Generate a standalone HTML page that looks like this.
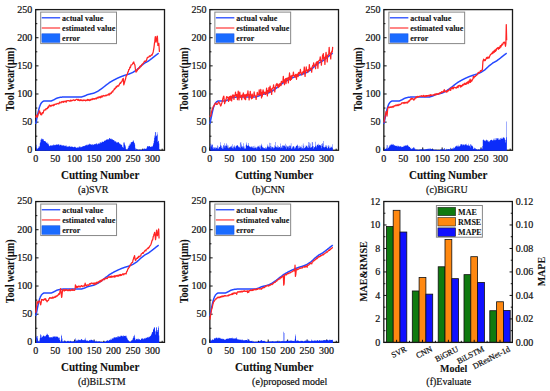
<!DOCTYPE html>
<html><head><meta charset="utf-8"><style>
html,body{margin:0;padding:0;background:#fff;}
svg{display:block;}
text{font-family:"Liberation Serif", serif;fill:#111;stroke:#111;stroke-width:0.2px;}
text[font-weight=bold]{stroke-width:0.08px;}
</style></head><body>
<svg width="550" height="391" viewBox="0 0 550 391">
<rect width="550" height="391" fill="#fff"/>
<rect x="35.7" y="9.6" width="128.8" height="140.65" fill="none" stroke="#1a1a1a" stroke-width="1.3"/>
<path d="M35.7 150.25h2.8M35.7 136.19h1.6M35.7 122.12h2.8M35.7 108.06h1.6M35.7 93.99h2.8M35.7 79.92h1.6M35.7 65.86h2.8M35.7 51.8h1.6M35.7 37.73h2.8M35.7 23.67h1.6M35.7 9.6h2.8M35.7 150.25v-2.8M45.43 150.25v-1.6M55.16 150.25v-2.8M64.88 150.25v-1.6M74.61 150.25v-2.8M84.34 150.25v-1.6M94.07 150.25v-2.8M103.8 150.25v-1.6M113.52 150.25v-2.8M123.25 150.25v-1.6M132.98 150.25v-2.8M142.71 150.25v-1.6M152.44 150.25v-2.8M162.17 150.25v-1.6" stroke="#111" stroke-width="1"/>
<path d="M36.2 150.85V144.06H35.89V144.25H36.28V144.97H36.67V147.64H37.06V149.56H37.45V148.55H37.84V148.28H38.23V148.07H38.62V146.47H39.01V147.37H39.4V146.03H39.79V143.16H40.17V142.23H40.56V139.65H40.95V139.67H41.34V138.24H41.73V138.93H42.12V139.54H42.51V138.66H42.9V139.11H43.29V139.51H43.68V140.76H44.07V140.92H44.46V141.09H44.84V141.25H45.23V141.77H45.62V141.33H46.01V142.73H46.4V142.53H46.79V142.86H47.18V142.56H47.57V144.1H47.96V144.27H48.35V143.55H48.74V145.2H49.12V146.06H49.51V146.2H49.9V145.25H50.29V145.66H50.68V145.23H51.07V145.27H51.46V145.73H51.85V145.7H52.24V145.23H52.63V145.35H53.02V144.53H53.41V144.83H53.79V145.64H54.18V144.64H54.57V145.09H54.96V145.21H55.35V145.07H55.74V144.53H56.13V144.52H56.52V144.52H56.91V144.93H57.3V144.6H57.69V144.47H58.07V144.67H58.46V144.05H58.85V144.13H59.24V145.15H59.63V145.61H60.02V145.09H60.41V144.84H60.8V144.56H61.19V145.09H61.58V145.83H61.97V145.57H62.35V145.27H62.74V145.79H63.13V144.95H63.52V145.45H63.91V146.17H64.3V145.71H64.69V145.62H65.08V145.41H65.47V145.88H65.86V146.54H66.25V145.21H66.64V146.41H67.02V146.53H67.41V146.68H67.8V146.53H68.19V146.7H68.58V146.33H68.97V146.46H69.36V146.32H69.75V145.85H70.14V147.1H70.53V146.73H70.92V146.26H71.3V146.77H71.69V146.81H72.08V146.69H72.47V146.75H72.86V147.09H73.25V147.29H73.64V147.34H74.03V147.18H74.42V146.62H74.81V146.91H75.2V146.83H75.59V147.43H75.97V147.83H76.36V147.74H76.75V147.73H77.14V147.76H77.53V146.93H77.92V147.79H78.31V147.54H78.7V146.68H79.09V146.58H79.48V146.57H79.87V147.63H80.25V146.86H80.64V146.63H81.03V147.36H81.42V146.92H81.81V146.38H82.2V146.37H82.59V146.76H82.98V146.09H83.37V146.1H83.76V146.6H84.15V146.08H84.54V145.79H84.92V145.85H85.31V145.02H85.7V145.39H86.09V145.28H86.48V144.77H86.87V144.49H87.26V145.48H87.65V144.84H88.04V144.32H88.43V144.82H88.82V145.06H89.2V143.81H89.59V143.73H89.98V143.92H90.37V144.75H90.76V143.94H91.15V144.74H91.54V144.7H91.93V144.5H92.32V144.03H92.71V145.14H93.1V144.88H93.48V144.47H93.87V144.04H94.26V144.56H94.65V144.09H95.04V144.28H95.43V143.83H95.82V144.22H96.21V143.31H96.6V143.58H96.99V144.49H97.38V144.28H97.77V143.38H98.15V144.03H98.54V143.08H98.93V143.85H99.32V143.41H99.71V142.54H100.1V142.03H100.49V143.15H100.88V141.77H101.27V142.77H101.66V142.82H102.05V142.06H102.43V141.28H102.82V142.11H103.21V142.08H103.6V141.49H103.99V141.02H104.38V140.63H104.77V140.19H105.16V140.69H105.55V140.15H105.94V139.63H106.33V139.33H106.72V139.98H107.1V139.27H107.49V139.4H107.88V138.97H108.27V139.6H108.66V139.47H109.05V138.01H109.44V138.11H109.83V139.25H110.22V139.04H110.61V138.48H111V138.39H111.38V139.15H111.77V139.48H112.16V139.71H112.55V138.94H112.94V140.06H113.33V140.12H113.72V140.18H114.11V141.28H114.5V140.55H114.89V141.63H115.28V141.06H115.66V141.55H116.05V142.65H116.44V141.64H116.83V142.45H117.22V142.22H117.61V142.61H118V141.96H118.39V141.96H118.78V142.94H119.17V143H119.56V143.97H119.95V144.33H120.33V143.68H120.72V144.75H121.11V144.55H121.5V144.93H121.89V145.41H122.28V146.99H122.67V147.3H123.06V147.78H123.45V142.8H123.84V141.99H124.23V142.77H124.61V144.43H125V145.29H125.39V146.48H125.78V148.76H126.17V148.94H126.56V149.95H126.95V149.95H127.34V149.02H127.73V147.79H128.12V147.8H128.51V145.67H128.9V145.92H129.28V145.36H129.67V143.7H130.06V144.4H130.45V143.57H130.84V141.94H131.23V142.24H131.62V142.15H132.01V141.91H132.4V141.65H132.79V140.76H133.18V141.62H133.56V140.37H133.95V142.5H134.34V143H134.73V144.45H135.12V147.87H135.51V149.95H135.9V148.44H136.29V149.58H136.68V149.01H137.07V149.03H137.46V149.95H137.85V149.56H138.23V149.95H138.62V149.9H139.01V149.75H139.4V149.44H139.79V149.68H140.18V149.65H140.57V149.64H140.96V149.88H141.35V149.94H141.74V149.31H142.13V149.86H142.51V149.55H142.9V149.24H143.29V149.49H143.68V148.73H144.07V148.72H144.46V148.46H144.85V148.26H145.24V149.02H145.63V149.04H146.02V149.08H146.41V148.03H146.79V147.29H147.18V146.11H147.57V146.17H147.96V146.36H148.35V146.41H148.74V146.59H149.13V145.97H149.52V146.07H149.91V146.93H150.3V146.89H150.69V146.58H151.08V146.53H151.46V146.51H151.85V147.07H152.24V146.17H152.63V145.86H153.02V144.61H153.41V143.07H153.8V140.82H154.19V137.76H154.58V135.56H154.97V132.12H155.36V132.22H155.74V136.38H156.13V136.11H156.52V135.33H156.91V132.23H157.3V134.5H157.69V141.95H158.08V141.06H158.47V140.67H158.86V143.51H159.25V149.07H159.64V150.85Z" fill="#0c2cfa" stroke="none"/>
<path d="M35.7 123.81L35.89 122.96L36.09 122.12L36.28 121.28L36.48 120.43L36.67 119.45L36.87 118.46L37.06 117.48L37.26 116.49L37.45 115.58L37.65 114.67L37.84 113.75L38.03 112.84L38.23 111.99L38.42 111.15L38.62 110.31L38.81 109.46L39.01 108.76L39.2 108.06L39.4 107.35L39.59 106.65L39.79 106.16L39.98 105.66L40.17 105.17L40.37 104.68L40.56 104.33L40.76 103.98L40.95 103.62L41.15 103.27L41.34 103.04L41.54 102.8L41.73 102.57L41.93 102.34L42.12 102.1L42.32 101.87L42.51 101.75L42.7 101.64L42.9 101.53L43.09 101.42L43.29 101.3L43.48 101.19L43.68 101.08L43.87 100.97L44.07 100.97L44.26 100.97L44.46 100.97L44.65 100.97L44.84 100.97L45.04 100.97L45.23 100.97L45.43 100.97L45.62 100.97L45.82 100.97L46.01 100.97L46.21 100.97L46.4 100.97L46.6 100.97L46.79 100.97L46.98 100.97L47.18 100.97L47.37 100.97L47.57 100.97L47.76 100.97L47.96 100.97L48.15 100.97L48.35 100.97L48.54 100.97L48.74 100.97L48.93 100.97L49.12 100.97L49.32 100.97L49.51 100.97L49.71 100.97L49.9 100.97L50.1 100.97L50.29 100.97L50.49 100.97L50.68 100.97L50.88 100.97L51.07 100.97L51.26 100.97L51.46 100.88L51.65 100.79L51.85 100.7L52.04 100.61L52.24 100.52L52.43 100.44L52.63 100.35L52.82 100.26L53.02 100.17L53.21 100.08L53.41 99.99L53.6 99.91L53.79 99.82L53.99 99.73L54.18 99.62L54.38 99.51L54.57 99.4L54.77 99.29L54.96 99.19L55.16 99.08L55.35 98.97L55.55 98.86L55.74 98.75L55.93 98.64L56.13 98.54L56.32 98.43L56.52 98.32L56.71 98.21L56.91 98.16L57.1 98.1L57.3 98.05L57.49 98L57.69 97.95L57.88 97.89L58.07 97.84L58.27 97.79L58.46 97.73L58.66 97.68L58.85 97.63L59.05 97.58L59.24 97.52L59.44 97.47L59.63 97.42L59.83 97.37L60.02 97.34L60.21 97.32L60.41 97.3L60.6 97.28L60.8 97.26L60.99 97.24L61.19 97.22L61.38 97.2L61.58 97.18L61.77 97.15L61.97 97.13L62.16 97.11L62.35 97.09L62.55 97.07L62.74 97.05L62.94 97.03L63.13 97.03L63.33 97.03L63.52 97.02L63.72 97.02L63.91 97.02L64.11 97.02L64.3 97.02L64.5 97.02L64.69 97.02L64.88 97.02L65.08 97.02L65.27 97.01L65.47 97.01L65.66 97.01L65.86 97.01L66.05 97.01L66.25 97.01L66.44 97.01L66.64 97.01L66.83 97L67.02 97L67.22 97L67.41 97L67.61 97L67.8 97L68 97L68.19 97L68.39 97L68.58 96.99L68.78 96.99L68.97 96.99L69.16 96.99L69.36 96.99L69.55 96.99L69.75 96.99L69.94 96.99L70.14 96.98L70.33 96.98L70.53 96.98L70.72 96.98L70.92 96.98L71.11 96.98L71.3 96.98L71.5 96.98L71.69 96.98L71.89 96.97L72.08 96.97L72.28 96.97L72.47 96.97L72.67 96.97L72.86 96.97L73.06 96.97L73.25 96.97L73.45 96.96L73.64 96.96L73.83 96.96L74.03 96.96L74.22 96.96L74.42 96.96L74.61 96.96L74.81 96.96L75 96.96L75.2 96.95L75.39 96.95L75.59 96.95L75.78 96.95L75.97 96.95L76.17 96.95L76.36 96.95L76.56 96.95L76.75 96.94L76.95 96.94L77.14 96.94L77.34 96.94L77.53 96.94L77.73 96.94L77.92 96.94L78.11 96.94L78.31 96.94L78.5 96.93L78.7 96.93L78.89 96.93L79.09 96.93L79.28 96.93L79.48 96.93L79.67 96.93L79.87 96.93L80.06 96.92L80.25 96.92L80.45 96.92L80.64 96.92L80.84 96.92L81.03 96.92L81.23 96.92L81.42 96.92L81.62 96.92L81.81 96.86L82.01 96.8L82.2 96.74L82.39 96.68L82.59 96.62L82.78 96.56L82.98 96.5L83.17 96.44L83.37 96.38L83.56 96.32L83.76 96.26L83.95 96.2L84.15 96.14L84.34 96.08L84.54 96.02L84.73 95.96L84.92 95.87L85.12 95.77L85.31 95.68L85.51 95.59L85.7 95.5L85.9 95.4L86.09 95.31L86.29 95.22L86.48 95.13L86.68 95.03L86.87 94.94L87.06 94.85L87.26 94.76L87.45 94.67L87.65 94.62L87.84 94.57L88.04 94.52L88.23 94.47L88.43 94.42L88.62 94.38L88.82 94.33L89.01 94.28L89.2 94.23L89.4 94.18L89.59 94.13L89.79 94.09L89.98 94.04L90.18 93.99L90.37 93.94L90.57 93.9L90.76 93.85L90.96 93.81L91.15 93.76L91.34 93.72L91.54 93.67L91.73 93.63L91.93 93.58L92.12 93.54L92.32 93.49L92.51 93.45L92.71 93.4L92.9 93.36L93.1 93.31L93.29 93.27L93.48 93.22L93.68 93.18L93.87 93.13L94.07 93.09L94.26 92.99L94.46 92.9L94.65 92.8L94.85 92.71L95.04 92.61L95.24 92.52L95.43 92.42L95.63 92.32L95.82 92.23L96.01 92.13L96.21 92.04L96.4 91.94L96.6 91.85L96.79 91.75L96.99 91.66L97.18 91.56L97.38 91.46L97.57 91.37L97.77 91.27L97.96 91.18L98.15 91.04L98.35 90.91L98.54 90.77L98.74 90.64L98.93 90.5L99.13 90.37L99.32 90.23L99.52 90.1L99.71 89.96L99.91 89.83L100.1 89.69L100.29 89.56L100.49 89.42L100.68 89.29L100.88 89.15L101.07 89.02L101.27 88.88L101.46 88.75L101.66 88.61L101.85 88.48L102.05 88.32L102.24 88.17L102.43 88.01L102.63 87.86L102.82 87.7L103.02 87.55L103.21 87.39L103.41 87.24L103.6 87.08L103.8 86.93L103.99 86.77L104.19 86.62L104.38 86.47L104.57 86.31L104.77 86.16L104.96 86L105.16 85.85L105.35 85.69L105.55 85.54L105.74 85.38L105.94 85.24L106.13 85.09L106.33 84.94L106.52 84.8L106.72 84.65L106.91 84.5L107.1 84.36L107.3 84.21L107.49 84.07L107.69 83.92L107.88 83.77L108.08 83.63L108.27 83.48L108.47 83.33L108.66 83.19L108.86 83.04L109.05 82.9L109.24 82.75L109.44 82.6L109.63 82.46L109.83 82.34L110.02 82.23L110.22 82.12L110.41 82.01L110.61 81.89L110.8 81.78L111 81.67L111.19 81.56L111.38 81.44L111.58 81.33L111.77 81.22L111.97 81.11L112.16 80.99L112.36 80.88L112.55 80.77L112.75 80.66L112.94 80.54L113.14 80.43L113.33 80.32L113.52 80.21L113.72 80.11L113.91 80.01L114.11 79.91L114.3 79.81L114.5 79.71L114.69 79.62L114.89 79.52L115.08 79.42L115.28 79.32L115.47 79.22L115.66 79.12L115.86 79.02L116.05 78.93L116.25 78.83L116.44 78.73L116.64 78.63L116.83 78.53L117.03 78.43L117.22 78.34L117.42 78.24L117.61 78.15L117.81 78.07L118 77.98L118.19 77.9L118.39 77.82L118.58 77.73L118.78 77.65L118.97 77.56L119.17 77.48L119.36 77.39L119.56 77.31L119.75 77.22L119.95 77.14L120.14 77.06L120.33 76.97L120.53 76.89L120.72 76.8L120.92 76.72L121.11 76.63L121.31 76.55L121.5 76.48L121.7 76.41L121.89 76.34L122.09 76.27L122.28 76.2L122.47 76.13L122.67 76.06L122.86 75.99L123.06 75.92L123.25 75.85L123.45 75.78L123.64 75.71L123.84 75.64L124.03 75.56L124.23 75.49L124.42 75.42L124.61 75.35L124.81 75.28L125 75.21L125.2 75.14L125.39 75.09L125.59 75.03L125.78 74.97L125.98 74.92L126.17 74.86L126.37 74.81L126.56 74.75L126.75 74.69L126.95 74.64L127.14 74.58L127.34 74.52L127.53 74.47L127.73 74.41L127.92 74.36L128.12 74.3L128.31 74.24L128.51 74.19L128.7 74.13L128.9 74.07L129.09 74.02L129.28 73.93L129.48 73.85L129.67 73.76L129.87 73.68L130.06 73.6L130.26 73.51L130.45 73.43L130.65 73.34L130.84 73.26L131.04 73.17L131.23 73.09L131.42 73.01L131.62 72.92L131.81 72.84L132.01 72.75L132.2 72.67L132.4 72.58L132.59 72.5L132.79 72.41L132.98 72.33L133.18 72.2L133.37 72.08L133.56 71.95L133.76 71.82L133.95 71.7L134.15 71.57L134.34 71.44L134.54 71.32L134.73 71.19L134.93 71.06L135.12 70.94L135.32 70.81L135.51 70.68L135.7 70.56L135.9 70.43L136.09 70.3L136.29 70.18L136.48 70.05L136.68 69.92L136.87 69.8L137.07 69.62L137.26 69.43L137.46 69.25L137.65 69.07L137.85 68.88L138.04 68.7L138.23 68.52L138.43 68.34L138.62 68.15L138.82 67.97L139.01 67.79L139.21 67.6L139.4 67.42L139.6 67.24L139.79 67.06L139.99 66.87L140.18 66.69L140.37 66.51L140.57 66.32L140.76 66.14L140.96 65.99L141.15 65.83L141.35 65.68L141.54 65.52L141.74 65.37L141.93 65.21L142.13 65.06L142.32 64.9L142.51 64.75L142.71 64.59L142.9 64.44L143.1 64.28L143.29 64.13L143.49 63.98L143.68 63.82L143.88 63.67L144.07 63.51L144.27 63.36L144.46 63.2L144.65 63.05L144.85 62.94L145.04 62.84L145.24 62.73L145.43 62.63L145.63 62.53L145.82 62.42L146.02 62.32L146.21 62.21L146.41 62.11L146.6 62.01L146.79 61.9L146.99 61.8L147.18 61.69L147.38 61.59L147.57 61.49L147.77 61.38L147.96 61.28L148.16 61.17L148.35 61.07L148.55 60.97L148.74 60.82L148.94 60.67L149.13 60.52L149.32 60.37L149.52 60.22L149.71 60.07L149.91 59.92L150.1 59.77L150.3 59.62L150.49 59.47L150.69 59.33L150.88 59.18L151.08 59.03L151.27 58.88L151.46 58.73L151.66 58.58L151.85 58.43L152.05 58.28L152.24 58.13L152.44 57.98L152.63 57.83L152.83 57.67L153.02 57.52L153.22 57.36L153.41 57.21L153.6 57.06L153.8 56.9L153.99 56.75L154.19 56.59L154.38 56.44L154.58 56.28L154.77 56.13L154.97 55.97L155.16 55.82L155.36 55.66L155.55 55.51L155.74 55.35L155.94 55.2L156.13 55.04L156.33 54.89L156.52 54.75L156.72 54.61L156.91 54.47L157.11 54.33L157.3 54.19L157.5 54.05L157.69 53.9L157.88 53.76L158.08 53.62L158.27 53.48L158.47 53.34L158.66 53.2" fill="none" stroke="#2448ff" stroke-width="1.5" stroke-linejoin="round"/>
<path d="M35.7 117.62L36.09 116.12L36.28 115.9L36.48 115.15L36.87 115.86L37.26 117.18L37.41 117.06L37.65 116.37L38.03 114.8L38.42 113.33L38.62 113.71L38.81 113.25L39.2 110.94L39.4 110.97L39.59 110.87L39.98 112.75L40.14 112.41L40.37 112.7L40.76 114.57L40.91 113.99L41.15 113.86L41.54 114.81L41.73 114.66L41.93 113.65L42.32 112.58L42.39 113.29L42.7 113.23L43.09 112.56L43.21 113.02L43.48 111.93L43.87 110.46L43.99 110.03L44.26 110.29L44.65 110.12L45.04 109.97L45.43 109.44L45.51 109.66L45.82 109.88L46.21 108.48L46.6 108.69L46.98 108.35L47.37 108.66L47.76 107.12L48.15 106.95L48.54 107.67L48.62 107.29L48.93 106.02L49.32 105.16L49.71 105.02L50.1 105.97L50.49 105.56L50.88 105.99L50.91 106.54L51.26 105.94L51.65 105.31L52.04 105.16L52.43 105.46L52.82 105.16L53.21 105.8L53.6 105.32L53.99 104.34L54.07 104.86L54.38 105.12L54.77 104.46L55.16 104.12L55.55 104.04L55.93 104.36L56.32 104.16L56.71 103.94L57.1 103.43L57.49 103.64L57.88 103.67L58.27 103.37L58.66 103.88L59.05 103.7L59.44 102.57L59.83 102L60.21 102.49L60.6 102.69L60.99 102.93L61.38 102.36L61.77 101.57L62.16 101.8L62.55 102.05L62.94 101.49L63.33 102.32L63.72 101.82L64.11 101.1L64.5 101.56L64.88 101.64L65.27 101.86L65.66 101.39L66.05 100.72L66.44 102.05L66.83 100.85L67.22 100.73L67.61 100.57L68 100.71L68.39 100.55L68.78 100.91L69.16 100.78L69.55 100.91L69.94 101.39L70.33 100.13L70.72 100.5L71.11 100.97L71.5 100.45L71.89 100.41L72.28 100.53L72.67 100.47L73.06 100.12L73.45 99.93L73.83 99.87L74.22 100.03L74.61 100.59L75 100.29L75.39 100.37L75.78 99.77L76.17 99.37L76.56 99.46L76.95 99.46L77.34 99.43L77.73 100.26L78.11 99.4L78.5 99.64L78.89 100.51L79.28 100.6L79.67 100.61L80.06 99.55L80.45 100.31L80.84 100.54L81.23 99.81L81.62 100.24L82.01 100.67L82.39 100.56L82.78 100.04L83.17 100.59L83.56 100.46L83.95 99.85L84.34 100.24L84.73 100.42L85.12 100.18L85.51 100.82L85.9 100.26L86.29 100.19L86.68 100.51L87.06 100.61L87.45 99.43L87.84 99.98L88.23 100.4L88.62 99.8L89.01 99.47L89.4 100.62L89.79 100.6L90.18 100.32L90.57 99.4L90.96 100.12L91.34 99.23L91.73 99.18L92.12 99.29L92.51 99.67L92.9 98.47L93.29 98.64L93.68 98.96L94.07 99.3L94.46 98.59L94.85 98.87L95.24 98.49L95.63 98.74L96.01 98.17L96.4 98.89L96.79 98.42L97.18 97.32L97.57 97.34L97.96 98.05L98.35 97.12L98.74 97.81L99.13 96.77L99.52 96.94L99.83 97.32L99.91 97.54L100.29 97.77L100.68 96.38L101.07 97.49L101.46 96.23L101.85 95.9L102.24 96.36L102.63 96.82L103.02 95.69L103.41 95.41L103.8 95.69L104.19 95.85L104.57 95.93L104.81 95.9L104.96 96.06L105.35 95.25L105.74 95.48L106.13 95.71L106.52 95.72L106.91 94.78L107.3 95.19L107.69 94.77L108.08 94.91L108.47 93.99L108.86 93.82L109.24 94.99L109.63 94.6L109.83 94.35L110.02 93.23L110.41 93.22L110.8 93.55L111.19 93.42L111.58 92.43L111.97 91.88L112.36 91.42L112.75 91.97L113.14 90.62L113.52 90.34L113.91 90.07L114.3 88.78L114.69 89.31L115.08 88.03L115.47 88.41L115.86 87.72L116.25 86.43L116.64 87.24L117.03 86.24L117.42 86.26L117.81 85.7L118.19 86.19L118.58 86.02L118.82 85.97L118.97 84.88L119.36 84.64L119.75 83.5L120.14 82.98L120.53 83.45L120.92 82.22L121.31 82.25L121.7 81.72L122.09 81.11L122.47 79.39L122.86 78.94L123.25 78.32L123.64 83.16L123.84 84.82L124.03 83.82L124.42 82.9L124.81 81.11L125.2 80.1L125.59 78.8L125.82 77.62L125.98 76.4L126.37 76.12L126.75 74.82L127.14 74.74L127.34 74.62L127.53 73.24L127.92 71.89L128.31 71.8L128.7 69.55L129.09 69.69L129.48 68.95L129.87 67.13L130.26 67.66L130.65 66.66L131.04 64.86L131.42 64.99L131.81 64.73L132.2 64.33L132.59 63.9L132.98 62.84L133.37 63.45L133.76 61.94L134.15 63.83L134.54 64.07L134.93 65.26L135.32 68.43L135.7 70.76L135.94 71.8L136.09 72.12L136.48 70.72L136.87 71.03L137.26 70.65L137.65 68.81L138.04 69.39L138.43 68.53L138.82 68.32L139.21 68.1L139.6 68.05L139.83 66.55L139.99 66.31L140.37 65.9L140.76 66.76L141.15 66.2L141.54 65.21L141.93 64.28L142.32 64.51L142.71 63.9L143.1 63.28L143.49 63.21L143.88 62.14L144.27 61.83L144.65 61.26L145.04 60.85L145.43 61.4L145.82 61.21L146.21 61.04L146.6 59.79L146.99 58.84L147.38 57.45L147.77 57.3L148.16 57.29L148.55 57.12L148.94 57L149.32 56.09L149.71 55.89L150.1 56.46L150.49 56.11L150.88 55.51L151.27 55.16L151.66 54.84L151.85 55.21L152.05 55.1L152.44 53.91L152.83 53.29L153.22 51.72L153.6 49.87L153.99 47.32L154.38 43.95L154.77 41.43L155.16 37.69L155.36 36.61L155.55 37.48L155.94 41.33L156.13 42.23L156.33 40.75L156.72 39.69L157.11 36.31L157.34 36.18L157.5 38.29L157.88 45.46L158.27 44.29L158.66 43.62L158.82 43.37L159.05 46.46L159.44 52.03" fill="none" stroke="#ff2424" stroke-width="1.25" stroke-linejoin="round"/>
<text x="32.3" y="153.15" font-size="10" text-anchor="end" >0</text>
<text x="32.3" y="125.02" font-size="10" text-anchor="end" >50</text>
<text x="32.3" y="96.89" font-size="10" text-anchor="end" >100</text>
<text x="32.3" y="68.76" font-size="10" text-anchor="end" >150</text>
<text x="32.3" y="40.63" font-size="10" text-anchor="end" >200</text>
<text x="32.3" y="12.5" font-size="10" text-anchor="end" >250</text>
<text x="35.7" y="161.55" font-size="10" text-anchor="middle" >0</text>
<text x="55.16" y="161.55" font-size="10" text-anchor="middle" >50</text>
<text x="74.61" y="161.55" font-size="10" text-anchor="middle" >100</text>
<text x="94.07" y="161.55" font-size="10" text-anchor="middle" >150</text>
<text x="113.52" y="161.55" font-size="10" text-anchor="middle" >200</text>
<text x="132.98" y="161.55" font-size="10" text-anchor="middle" >250</text>
<text x="152.44" y="161.55" font-size="10" text-anchor="middle" >300</text>
<text x="100.1" y="178.85" font-size="11.6" text-anchor="middle" font-weight="bold" textLength="78.4" lengthAdjust="spacingAndGlyphs">Cutting Number</text>
<text transform="translate(14.1 79.33) rotate(-90)" font-size="11.5" font-weight="bold" text-anchor="middle" textLength="64" lengthAdjust="spacingAndGlyphs">Tool wear(&#956;m)</text>
<text x="77.9" y="192.85" font-size="10" text-anchor="start" >(a)SVR</text>
<rect x="40.7" y="12.1" width="75.8" height="31.5" fill="#fff" stroke="#888" stroke-width="1"/>
<path d="M41.7 17.8h18.5" stroke="#2046ff" stroke-width="1.3"/>
<path d="M41.7 28h18.5" stroke="#ff2424" stroke-width="1.1"/>
<rect x="41.9" y="33.8" width="18" height="8.6" fill="#1a6bff" stroke="#1450e0" stroke-width="0.5"/>
<text x="62.1" y="20.7" font-size="8" text-anchor="start" font-weight="bold" >actual value</text>
<text x="62.1" y="30.9" font-size="8" text-anchor="start" font-weight="bold" >estimated value</text>
<text x="62.1" y="41.1" font-size="8" text-anchor="start" font-weight="bold" >error</text>
<rect x="209.85" y="9.6" width="128.65" height="140.65" fill="none" stroke="#1a1a1a" stroke-width="1.3"/>
<path d="M209.85 150.25h2.8M209.85 136.19h1.6M209.85 122.12h2.8M209.85 108.06h1.6M209.85 93.99h2.8M209.85 79.92h1.6M209.85 65.86h2.8M209.85 51.8h1.6M209.85 37.73h2.8M209.85 23.67h1.6M209.85 9.6h2.8M209.85 150.25v-2.8M219.57 150.25v-1.6M229.28 150.25v-2.8M239 150.25v-1.6M248.72 150.25v-2.8M258.43 150.25v-1.6M268.15 150.25v-2.8M277.87 150.25v-1.6M287.58 150.25v-2.8M297.3 150.25v-1.6M307.02 150.25v-2.8M316.73 150.25v-1.6M326.45 150.25v-2.8M336.17 150.25v-1.6" stroke="#111" stroke-width="1"/>
<path d="M210.35 150.85V143.73H210.04V145.59H210.43V145.93H210.82V143.64H211.21V146.42H211.6V145H211.99V144.68H212.38V144.47H212.77V148.31H213.15V147.01H213.54V148.74H213.93V148.21H214.32V146.99H214.71V148.17H215.1V148.52H215.49V146.89H215.87V148.14H216.26V148.11H216.65V147.24H217.04V148.56H217.43V145.25H217.82V146.13H218.21V148.5H218.6V148.55H218.98V146.88H219.37V147.22H219.76V146.82H220.15V142.25H220.54V145.28H220.93V145.38H221.32V148.04H221.7V146.14H222.09V147.44H222.48V148.72H222.87V148.7H223.26V145.23H223.65V145.24H224.04V143.3H224.43V146.31H224.81V147.75H225.2V145.76H225.59V145.47H225.98V143.27H226.37V146.06H226.76V144.38H227.15V145.46H227.53V147.42H227.92V145.61H228.31V147.89H228.7V148.53H229.09V148.75H229.48V147.99H229.87V147.46H230.26V146.24H230.64V147.05H231.03V145.77H231.42V146.57H231.81V147.83H232.2V148.15H232.59V144.23H232.98V148.51H233.36V146.98H233.75V145.99H234.14V145.36H234.53V147.16H234.92V146.3H235.31V148.13H235.7V147.28H236.09V145.68H236.47V145.71H236.86V145.5H237.25V145.3H237.64V145.19H238.03V146.1H238.42V146.93H238.81V147.38H239.19V147.46H239.58V146.79H239.97V142.72H240.36V148.31H240.75V142.06H241.14V146.69H241.53V144.56H241.92V146.21H242.3V146.51H242.69V147.85H243.08V143.17H243.47V146.56H243.86V148.53H244.25V148.56H244.64V146.58H245.02V148.67H245.41V148.3H245.8V145.26H246.19V144.54H246.58V142.42H246.97V145.89H247.36V145.42H247.75V145.83H248.13V143.08H248.52V145.22H248.91V146.23H249.3V147.08H249.69V146.03H250.08V147.13H250.47V146.73H250.85V147.43H251.24V146.81H251.63V146.3H252.02V146.6H252.41V147.72H252.8V147.6H253.19V148.14H253.58V145.97H253.96V147.55H254.35V148.27H254.74V145.8H255.13V147.21H255.52V147.97H255.91V147.09H256.3V147.82H256.68V148.81H257.07V147.31H257.46V146.59H257.85V145.64H258.24V146.33H258.63V146.86H259.02V145.5H259.41V147.43H259.79V147.27H260.18V148.76H260.57V145.38H260.96V145.66H261.35V143.69H261.74V145.29H262.13V146.66H262.51V147.56H262.9V147.21H263.29V148.24H263.68V147.77H264.07V148.51H264.46V147.91H264.85V148.21H265.24V148.75H265.62V146.98H266.01V148.11H266.4V148.71H266.79V147.08H267.18V144.54H267.57V146.19H267.96V147.83H268.34V145.66H268.73V146.95H269.12V142.76H269.51V146.74H269.9V148.24H270.29V145.94H270.68V143.09H271.07V148.53H271.45V146.51H271.84V147.09H272.23V146.85H272.62V147.44H273.01V147.15H273.4V148.4H273.79V147.81H274.18V145.35H274.56V147.64H274.95V146.14H275.34V141.9H275.73V146.81H276.12V146.65H276.51V147.3H276.9V148.09H277.28V145.25H277.67V147.06H278.06V147.73H278.45V146.05H278.84V147.62H279.23V147.03H279.62V147.07H280.01V148.16H280.39V143.6H280.78V145.9H281.17V147.13H281.56V147.82H281.95V145.7H282.34V145.35H282.73V148.35H283.11V145.33H283.5V146.06H283.89V145.5H284.28V145.47H284.67V146.3H285.06V143.81H285.45V147.23H285.84V146.2H286.22V148.82H286.61V145.23H287V146.35H287.39V146.39H287.78V148.73H288.17V147.25H288.56V145.91H288.94V145.48H289.33V145.79H289.72V148.05H290.11V145.54H290.5V146.35H290.89V143.18H291.28V148.74H291.67V148.44H292.05V148.37H292.44V146.92H292.83V145.88H293.22V146.64H293.61V146.03H294V147.45H294.39V148.75H294.77V146.57H295.16V147.28H295.55V148.28H295.94V145.92H296.33V145.5H296.72V146.11H297.11V145.34H297.5V144.45H297.88V148.84H298.27V145.94H298.66V147.76H299.05V147.99H299.44V145.83H299.83V147.17H300.22V147.53H300.6V146.36H300.99V148.4H301.38V146.91H301.77V145.21H302.16V148.5H302.55V148.05H302.94V143.42H303.33V145.63H303.71V148.74H304.1V147.82H304.49V148.1H304.88V145.55H305.27V147.1H305.66V147.59H306.05V145.99H306.43V145.6H306.82V145.82H307.21V147.98H307.6V146.81H307.99V148.04H308.38V141.91H308.77V145.37H309.16V146.56H309.54V142.57H309.93V148.01H310.32V143.52H310.71V147.16H311.1V146.96H311.49V147.38H311.88V142.04H312.26V146.33H312.65V142.17H313.04V148.64H313.43V146.01H313.82V147.61H314.21V147.14H314.6V146.88H314.99V145.77H315.37V141.85H315.76V146.42H316.15V147.61H316.54V145.77H316.93V144.48H317.32V144.91H317.71V144.74H318.09V145.73H318.48V143.76H318.87V145.24H319.26V145.07H319.65V144.65H320.04V145.31H320.43V145.23H320.82V146.08H321.2V143.94H321.59V148.37H321.98V143.11H322.37V145.68H322.76V143.79H323.15V147.01H323.54V141.09H323.92V147.86H324.31V146.78H324.7V147.29H325.09V146.95H325.48V145.24H325.87V146.26H326.26V145.27H326.65V148.33H327.03V148.43H327.42V148.1H327.81V145.67H328.2V145.14H328.59V146.96H328.98V148.39H329.37V147.69H329.75V145.76H330.14V147.47H330.53V147.76H330.92V147.68H331.31V147.05H331.7V146.62H332.09V147.66H332.48V144.34H332.86V150.85Z" fill="#0c2cfa" stroke="none"/>
<path d="M209.85 123.81L210.04 122.96L210.24 122.12L210.43 121.28L210.63 120.43L210.82 119.45L211.02 118.46L211.21 117.48L211.4 116.49L211.6 115.58L211.79 114.67L211.99 113.75L212.18 112.84L212.38 111.99L212.57 111.15L212.77 110.31L212.96 109.46L213.15 108.76L213.35 108.06L213.54 107.35L213.74 106.65L213.93 106.16L214.13 105.66L214.32 105.17L214.51 104.68L214.71 104.33L214.9 103.98L215.1 103.62L215.29 103.27L215.49 103.04L215.68 102.8L215.87 102.57L216.07 102.34L216.26 102.1L216.46 101.87L216.65 101.75L216.85 101.64L217.04 101.53L217.23 101.42L217.43 101.3L217.62 101.19L217.82 101.08L218.01 100.97L218.21 100.97L218.4 100.97L218.6 100.97L218.79 100.97L218.98 100.97L219.18 100.97L219.37 100.97L219.57 100.97L219.76 100.97L219.96 100.97L220.15 100.97L220.34 100.97L220.54 100.97L220.73 100.97L220.93 100.97L221.12 100.97L221.32 100.97L221.51 100.97L221.7 100.97L221.9 100.97L222.09 100.97L222.29 100.97L222.48 100.97L222.68 100.97L222.87 100.97L223.06 100.97L223.26 100.97L223.45 100.97L223.65 100.97L223.84 100.97L224.04 100.97L224.23 100.97L224.43 100.97L224.62 100.97L224.81 100.97L225.01 100.97L225.2 100.97L225.4 100.97L225.59 100.88L225.79 100.79L225.98 100.7L226.17 100.61L226.37 100.52L226.56 100.44L226.76 100.35L226.95 100.26L227.15 100.17L227.34 100.08L227.53 99.99L227.73 99.91L227.92 99.82L228.12 99.73L228.31 99.62L228.51 99.51L228.7 99.4L228.89 99.29L229.09 99.19L229.28 99.08L229.48 98.97L229.67 98.86L229.87 98.75L230.06 98.64L230.26 98.54L230.45 98.43L230.64 98.32L230.84 98.21L231.03 98.16L231.23 98.1L231.42 98.05L231.62 98L231.81 97.95L232 97.89L232.2 97.84L232.39 97.79L232.59 97.73L232.78 97.68L232.98 97.63L233.17 97.58L233.36 97.52L233.56 97.47L233.75 97.42L233.95 97.37L234.14 97.34L234.34 97.32L234.53 97.3L234.72 97.28L234.92 97.26L235.11 97.24L235.31 97.22L235.5 97.2L235.7 97.18L235.89 97.15L236.09 97.13L236.28 97.11L236.47 97.09L236.67 97.07L236.86 97.05L237.06 97.03L237.25 97.03L237.45 97.03L237.64 97.02L237.83 97.02L238.03 97.02L238.22 97.02L238.42 97.02L238.61 97.02L238.81 97.02L239 97.02L239.19 97.02L239.39 97.01L239.58 97.01L239.78 97.01L239.97 97.01L240.17 97.01L240.36 97.01L240.55 97.01L240.75 97.01L240.94 97L241.14 97L241.33 97L241.53 97L241.72 97L241.92 97L242.11 97L242.3 97L242.5 97L242.69 96.99L242.89 96.99L243.08 96.99L243.28 96.99L243.47 96.99L243.66 96.99L243.86 96.99L244.05 96.99L244.25 96.98L244.44 96.98L244.64 96.98L244.83 96.98L245.02 96.98L245.22 96.98L245.41 96.98L245.61 96.98L245.8 96.98L246 96.97L246.19 96.97L246.39 96.97L246.58 96.97L246.77 96.97L246.97 96.97L247.16 96.97L247.36 96.97L247.55 96.96L247.75 96.96L247.94 96.96L248.13 96.96L248.33 96.96L248.52 96.96L248.72 96.96L248.91 96.96L249.11 96.96L249.3 96.95L249.49 96.95L249.69 96.95L249.88 96.95L250.08 96.95L250.27 96.95L250.47 96.95L250.66 96.95L250.85 96.94L251.05 96.94L251.24 96.94L251.44 96.94L251.63 96.94L251.83 96.94L252.02 96.94L252.22 96.94L252.41 96.94L252.6 96.93L252.8 96.93L252.99 96.93L253.19 96.93L253.38 96.93L253.58 96.93L253.77 96.93L253.96 96.93L254.16 96.92L254.35 96.92L254.55 96.92L254.74 96.92L254.94 96.92L255.13 96.92L255.32 96.92L255.52 96.92L255.71 96.92L255.91 96.86L256.1 96.8L256.3 96.74L256.49 96.68L256.68 96.62L256.88 96.56L257.07 96.5L257.27 96.44L257.46 96.38L257.66 96.32L257.85 96.26L258.05 96.2L258.24 96.14L258.43 96.08L258.63 96.02L258.82 95.96L259.02 95.87L259.21 95.77L259.41 95.68L259.6 95.59L259.79 95.5L259.99 95.4L260.18 95.31L260.38 95.22L260.57 95.13L260.77 95.03L260.96 94.94L261.15 94.85L261.35 94.76L261.54 94.67L261.74 94.62L261.93 94.57L262.13 94.52L262.32 94.47L262.51 94.42L262.71 94.38L262.9 94.33L263.1 94.28L263.29 94.23L263.49 94.18L263.68 94.13L263.88 94.09L264.07 94.04L264.26 93.99L264.46 93.94L264.65 93.9L264.85 93.85L265.04 93.81L265.24 93.76L265.43 93.72L265.62 93.67L265.82 93.63L266.01 93.58L266.21 93.54L266.4 93.49L266.6 93.45L266.79 93.4L266.98 93.36L267.18 93.31L267.37 93.27L267.57 93.22L267.76 93.18L267.96 93.13L268.15 93.09L268.34 92.99L268.54 92.9L268.73 92.8L268.93 92.71L269.12 92.61L269.32 92.52L269.51 92.42L269.71 92.32L269.9 92.23L270.09 92.13L270.29 92.04L270.48 91.94L270.68 91.85L270.87 91.75L271.07 91.66L271.26 91.56L271.45 91.46L271.65 91.37L271.84 91.27L272.04 91.18L272.23 91.04L272.43 90.91L272.62 90.77L272.81 90.64L273.01 90.5L273.2 90.37L273.4 90.23L273.59 90.1L273.79 89.96L273.98 89.83L274.18 89.69L274.37 89.56L274.56 89.42L274.76 89.29L274.95 89.15L275.15 89.02L275.34 88.88L275.54 88.75L275.73 88.61L275.92 88.48L276.12 88.32L276.31 88.17L276.51 88.01L276.7 87.86L276.9 87.7L277.09 87.55L277.28 87.39L277.48 87.24L277.67 87.08L277.87 86.93L278.06 86.77L278.26 86.62L278.45 86.47L278.64 86.31L278.84 86.16L279.03 86L279.23 85.85L279.42 85.69L279.62 85.54L279.81 85.38L280.01 85.24L280.2 85.09L280.39 84.94L280.59 84.8L280.78 84.65L280.98 84.5L281.17 84.36L281.37 84.21L281.56 84.07L281.75 83.92L281.95 83.77L282.14 83.63L282.34 83.48L282.53 83.33L282.73 83.19L282.92 83.04L283.11 82.9L283.31 82.75L283.5 82.6L283.7 82.46L283.89 82.34L284.09 82.23L284.28 82.12L284.47 82.01L284.67 81.89L284.86 81.78L285.06 81.67L285.25 81.56L285.45 81.44L285.64 81.33L285.84 81.22L286.03 81.11L286.22 80.99L286.42 80.88L286.61 80.77L286.81 80.66L287 80.54L287.2 80.43L287.39 80.32L287.58 80.21L287.78 80.11L287.97 80.01L288.17 79.91L288.36 79.81L288.56 79.71L288.75 79.62L288.94 79.52L289.14 79.42L289.33 79.32L289.53 79.22L289.72 79.12L289.92 79.02L290.11 78.93L290.3 78.83L290.5 78.73L290.69 78.63L290.89 78.53L291.08 78.43L291.28 78.34L291.47 78.24L291.67 78.15L291.86 78.07L292.05 77.98L292.25 77.9L292.44 77.82L292.64 77.73L292.83 77.65L293.03 77.56L293.22 77.48L293.41 77.39L293.61 77.31L293.8 77.22L294 77.14L294.19 77.06L294.39 76.97L294.58 76.89L294.77 76.8L294.97 76.72L295.16 76.63L295.36 76.55L295.55 76.48L295.75 76.41L295.94 76.34L296.13 76.27L296.33 76.2L296.52 76.13L296.72 76.06L296.91 75.99L297.11 75.92L297.3 75.85L297.5 75.78L297.69 75.71L297.88 75.64L298.08 75.56L298.27 75.49L298.47 75.42L298.66 75.35L298.86 75.28L299.05 75.21L299.24 75.14L299.44 75.09L299.63 75.03L299.83 74.97L300.02 74.92L300.22 74.86L300.41 74.81L300.6 74.75L300.8 74.69L300.99 74.64L301.19 74.58L301.38 74.52L301.58 74.47L301.77 74.41L301.96 74.36L302.16 74.3L302.35 74.24L302.55 74.19L302.74 74.13L302.94 74.07L303.13 74.02L303.33 73.93L303.52 73.85L303.71 73.76L303.91 73.68L304.1 73.6L304.3 73.51L304.49 73.43L304.69 73.34L304.88 73.26L305.07 73.17L305.27 73.09L305.46 73.01L305.66 72.92L305.85 72.84L306.05 72.75L306.24 72.67L306.43 72.58L306.63 72.5L306.82 72.41L307.02 72.33L307.21 72.2L307.41 72.08L307.6 71.95L307.8 71.82L307.99 71.7L308.18 71.57L308.38 71.44L308.57 71.32L308.77 71.19L308.96 71.06L309.16 70.94L309.35 70.81L309.54 70.68L309.74 70.56L309.93 70.43L310.13 70.3L310.32 70.18L310.52 70.05L310.71 69.92L310.9 69.8L311.1 69.62L311.29 69.43L311.49 69.25L311.68 69.07L311.88 68.88L312.07 68.7L312.26 68.52L312.46 68.34L312.65 68.15L312.85 67.97L313.04 67.79L313.24 67.6L313.43 67.42L313.63 67.24L313.82 67.06L314.01 66.87L314.21 66.69L314.4 66.51L314.6 66.32L314.79 66.14L314.99 65.99L315.18 65.83L315.37 65.68L315.57 65.52L315.76 65.37L315.96 65.21L316.15 65.06L316.35 64.9L316.54 64.75L316.73 64.59L316.93 64.44L317.12 64.28L317.32 64.13L317.51 63.98L317.71 63.82L317.9 63.67L318.09 63.51L318.29 63.36L318.48 63.2L318.68 63.05L318.87 62.94L319.07 62.84L319.26 62.73L319.46 62.63L319.65 62.53L319.84 62.42L320.04 62.32L320.23 62.21L320.43 62.11L320.62 62.01L320.82 61.9L321.01 61.8L321.2 61.69L321.4 61.59L321.59 61.49L321.79 61.38L321.98 61.28L322.18 61.17L322.37 61.07L322.56 60.97L322.76 60.82L322.95 60.67L323.15 60.52L323.34 60.37L323.54 60.22L323.73 60.07L323.92 59.92L324.12 59.77L324.31 59.62L324.51 59.47L324.7 59.33L324.9 59.18L325.09 59.03L325.29 58.88L325.48 58.73L325.67 58.58L325.87 58.43L326.06 58.28L326.26 58.13L326.45 57.98L326.65 57.83L326.84 57.67L327.03 57.52L327.23 57.36L327.42 57.21L327.62 57.06L327.81 56.9L328.01 56.75L328.2 56.59L328.39 56.44L328.59 56.28L328.78 56.13L328.98 55.97L329.17 55.82L329.37 55.66L329.56 55.51L329.75 55.35L329.95 55.2L330.14 55.04L330.34 54.89L330.53 54.75L330.73 54.61L330.92 54.47L331.12 54.33L331.31 54.19L331.5 54.05L331.7 53.9L331.89 53.76L332.09 53.62L332.28 53.48L332.48 53.34L332.67 53.2" fill="none" stroke="#2448ff" stroke-width="1.5" stroke-linejoin="round"/>
<path d="M209.85 116.85L210.24 115.74L210.63 116.12L211.02 114.94L211.4 112.18L211.79 110.84L212.18 109.46L212.57 109.02L212.96 107.46L213.35 106.41L213.74 105.76L214.13 105.77L214.51 104.62L214.9 103.98L215.29 103.14L215.68 103.01L216.07 103.42L216.46 104.44L216.85 104.45L217.23 104.11L217.62 103.86L218.01 103.24L218.4 101.86L218.79 102.06L219.18 102.8L219.57 102.78L219.96 104.24L220.34 105.03L220.73 106.03L221.12 105.31L221.51 103.72L221.9 102.96L222.29 101.24L222.68 99.34L223.06 97.86L223.45 96.66L223.84 96.25L224.23 100.02L224.62 103.72L225.01 102.13L225.4 101.06L225.79 99.71L226.17 99.14L226.56 96.78L226.95 96.55L227.34 97.64L227.73 97.65L228.12 97.56L228.51 101.45L228.89 97.6L229.28 96.64L229.67 97.5L230.06 100.5L230.45 96.23L230.84 96.39L231.23 96.51L231.62 100.85L232 96.96L232.39 95.18L232.78 96.52L233.17 94.96L233.56 96.21L233.95 99.35L234.34 95.62L234.72 95.33L235.11 95.76L235.5 92.23L235.89 95.19L236.28 96.38L236.67 94.66L237.06 94.83L237.45 99.68L237.83 95.17L238.22 91.16L238.61 94.76L239 99.9L239.39 95.5L239.78 92.05L240.17 95.89L240.55 96.39L240.94 97.68L241.33 95.6L241.72 99.63L242.11 94.88L242.5 95.56L242.89 96.33L243.28 92.95L243.66 94.31L244.05 95.01L244.44 98.92L244.83 95.41L245.22 94.69L245.61 99.66L246 95.01L246.39 96.06L246.77 94.25L247.16 96.19L247.55 94.86L247.94 90.81L248.33 95.23L248.72 94.64L249.11 99.98L249.49 95.81L249.88 95.02L250.27 91.44L250.66 94.87L251.05 95.81L251.44 98.78L251.83 95.23L252.22 94.16L252.6 98.15L252.99 96.2L253.38 96.19L253.77 95.85L254.16 91.97L254.55 95.41L254.94 95.17L255.32 96.34L255.71 96.27L256.1 99.39L256.49 95.88L256.88 95.95L257.27 92.43L257.66 94.71L258.05 94.94L258.43 94.07L258.82 94.92L259.21 89.79L259.6 94.07L259.99 94.79L260.38 93.33L260.77 89.46L261.15 92.79L261.54 97.93L261.93 92.63L262.32 96.08L262.71 91.85L263.1 89.78L263.49 92.11L263.88 93.49L264.26 92.41L264.65 92.41L265.04 92.15L265.43 94.49L265.82 93.01L266.21 92.29L266.6 88.13L266.98 91.51L267.37 95.95L267.76 90.62L268.15 91.96L268.54 92.06L268.93 87.67L269.32 90.39L269.71 91.71L270.09 86.16L270.48 90.73L270.87 89.03L271.26 90.68L271.65 94.37L272.04 88.47L272.43 88.53L272.81 87.98L273.2 87.92L273.59 84.78L273.98 88.03L274.37 87.43L274.76 91.9L275.15 88.24L275.54 87.38L275.92 85.67L276.31 84.04L276.7 85.24L277.09 83.5L277.48 85.8L277.87 84.77L278.26 87.67L278.64 85.5L279.03 84.22L279.42 86.52L279.81 84.26L280.2 83.37L280.59 83.85L280.98 85.73L281.37 81.41L281.75 81.6L282.14 81.77L282.53 82.45L282.92 81.49L283.31 76.33L283.7 81.01L284.09 81.55L284.47 84.63L284.86 79.63L285.25 79.93L285.64 78.6L286.03 83.52L286.42 78.47L286.81 78.46L287.2 78.67L287.58 79.22L287.97 77.61L288.36 82.95L288.75 78.01L289.14 77.25L289.53 72.99L289.92 77.56L290.3 80.48L290.69 76.08L291.08 77.65L291.47 79.36L291.86 75.43L292.25 76.03L292.64 76.07L293.03 75.62L293.41 72.1L293.8 75.39L294.19 75.44L294.58 75.86L294.97 77.29L295.36 74.79L295.75 74.34L296.13 75.56L296.52 79.28L296.91 74.82L297.3 74.15L297.69 75.08L298.08 76.62L298.47 72.75L298.86 72.48L299.24 74.01L299.63 73.06L300.02 72.48L300.41 69.46L300.8 72.61L301.19 73.67L301.58 73.27L301.96 75.01L302.35 72.82L302.74 72.57L303.13 71.5L303.52 72.59L303.91 71.66L304.3 67L304.69 72.2L305.07 76.4L305.46 70.97L305.85 71.39L306.24 66.95L306.63 70.59L307.02 69.86L307.41 71.18L307.8 72.5L308.18 69.74L308.57 69.58L308.96 70.36L309.35 64.66L309.74 69.17L310.13 69.03L310.52 69.31L310.9 68.21L311.29 68.5L311.68 72.15L312.07 67.14L312.46 66.33L312.85 65.32L313.24 66.31L313.63 62.77L314.01 64.41L314.4 65.53L314.79 65.26L315.18 64.96L315.57 68.7L315.96 62.8L316.35 63.57L316.73 62.05L317.12 61.64L317.51 62.28L317.9 68.28L318.29 61.19L318.68 60.9L319.07 60.85L319.46 59.89L319.84 60.25L320.23 56.86L320.62 60.55L321.01 60.84L321.4 65.15L321.79 60.11L322.18 59.76L322.56 55.24L322.95 58.04L323.34 53.59L323.73 58.79L324.12 57.35L324.51 57.57L324.9 64.41L325.29 57.6L325.67 55.93L326.06 52.41L326.45 57.1L326.84 56.3L327.23 61.84L327.62 55.12L328.01 55.43L328.39 55.03L328.78 53.84L329.17 47.4L329.56 53.95L329.95 54.02L330.34 53.6L330.73 58.85L331.12 52.39L331.5 52.59L331.89 50.96L332.28 52.04L332.67 46.89" fill="none" stroke="#ff2424" stroke-width="1.25" stroke-linejoin="round"/>
<text x="206.45" y="153.15" font-size="10" text-anchor="end" >0</text>
<text x="206.45" y="125.02" font-size="10" text-anchor="end" >50</text>
<text x="206.45" y="96.89" font-size="10" text-anchor="end" >100</text>
<text x="206.45" y="68.76" font-size="10" text-anchor="end" >150</text>
<text x="206.45" y="40.63" font-size="10" text-anchor="end" >200</text>
<text x="206.45" y="12.5" font-size="10" text-anchor="end" >250</text>
<text x="209.85" y="161.55" font-size="10" text-anchor="middle" >0</text>
<text x="229.28" y="161.55" font-size="10" text-anchor="middle" >50</text>
<text x="248.72" y="161.55" font-size="10" text-anchor="middle" >100</text>
<text x="268.15" y="161.55" font-size="10" text-anchor="middle" >150</text>
<text x="287.58" y="161.55" font-size="10" text-anchor="middle" >200</text>
<text x="307.02" y="161.55" font-size="10" text-anchor="middle" >250</text>
<text x="326.45" y="161.55" font-size="10" text-anchor="middle" >300</text>
<text x="274.18" y="178.85" font-size="11.6" text-anchor="middle" font-weight="bold" textLength="78.4" lengthAdjust="spacingAndGlyphs">Cutting Number</text>
<text transform="translate(188.25 79.33) rotate(-90)" font-size="11.5" font-weight="bold" text-anchor="middle" textLength="64" lengthAdjust="spacingAndGlyphs">Tool wear(&#956;m)</text>
<text x="252.05" y="192.85" font-size="10" text-anchor="start" >(b)CNN</text>
<rect x="214.85" y="12.1" width="75.8" height="31.5" fill="#fff" stroke="#888" stroke-width="1"/>
<path d="M215.85 17.8h18.5" stroke="#2046ff" stroke-width="1.3"/>
<path d="M215.85 28h18.5" stroke="#ff2424" stroke-width="1.1"/>
<rect x="216.05" y="33.8" width="18" height="8.6" fill="#1a6bff" stroke="#1450e0" stroke-width="0.5"/>
<text x="236.25" y="20.7" font-size="8" text-anchor="start" font-weight="bold" >actual value</text>
<text x="236.25" y="30.9" font-size="8" text-anchor="start" font-weight="bold" >estimated value</text>
<text x="236.25" y="41.1" font-size="8" text-anchor="start" font-weight="bold" >error</text>
<rect x="383.85" y="9.6" width="128.65" height="140.65" fill="none" stroke="#1a1a1a" stroke-width="1.3"/>
<path d="M383.85 150.25h2.8M383.85 136.19h1.6M383.85 122.12h2.8M383.85 108.06h1.6M383.85 93.99h2.8M383.85 79.92h1.6M383.85 65.86h2.8M383.85 51.8h1.6M383.85 37.73h2.8M383.85 23.67h1.6M383.85 9.6h2.8M383.85 150.25v-2.8M393.57 150.25v-1.6M403.28 150.25v-2.8M413 150.25v-1.6M422.72 150.25v-2.8M432.43 150.25v-1.6M442.15 150.25v-2.8M451.87 150.25v-1.6M461.58 150.25v-2.8M471.3 150.25v-1.6M481.02 150.25v-2.8M490.73 150.25v-1.6M500.45 150.25v-2.8M510.17 150.25v-1.6" stroke="#111" stroke-width="1"/>
<path d="M384.35 150.85V149.12H384.04V148.9H384.43V149.03H384.82V148.67H385.21V148.96H385.6V148.74H385.99V148.8H386.38V147.74H386.77V144.91H387.15V145.27H387.54V148.67H387.93V147.76H388.32V148.06H388.71V146.87H389.1V146.39H389.49V145.26H389.87V145.44H390.26V145.29H390.65V144.6H391.04V144.8H391.43V144.61H391.82V143.69H392.21V144.76H392.6V144.66H392.98V144.4H393.37V144.16H393.76V145.42H394.15V145.01H394.54V145.48H394.93V145.82H395.32V146H395.7V145.39H396.09V146.05H396.48V145.67H396.87V146.44H397.26V146.46H397.65V145.51H398.04V145.67H398.43V145.88H398.81V147H399.2V146.39H399.59V146.18H399.98V146.5H400.37V146.37H400.76V146.36H401.15V146.72H401.53V147.16H401.92V146.76H402.31V146.95H402.7V146.71H403.09V146.74H403.48V146.17H403.87V145.34H404.26V146.14H404.64V146.05H405.03V145.57H405.42V145.73H405.81V145.02H406.2V145.83H406.59V145.45H406.98V145.03H407.36V144.7H407.75V146.03H408.14V146.53H408.53V145.63H408.92V146.91H409.31V146.7H409.7V146.92H410.09V147.96H410.47V148.51H410.86V147.79H411.25V149H411.64V149.18H412.03V148.3H412.42V148.69H412.81V148.47H413.19V147.47H413.58V147.2H413.97V147.4H414.36V148.63H414.75V148.37H415.14V149.12H415.53V149.95H415.92V149.54H416.3V149.48H416.69V149.82H417.08V149.95H417.47V149.52H417.86V149.51H418.25V149.95H418.64V149.92H419.02V149.75H419.41V149.49H419.8V149.52H420.19V149.54H420.58V149.42H420.97V148.96H421.36V149.51H421.75V149.58H422.13V149.16H422.52V149.78H422.91V149.66H423.3V148.71H423.69V149.29H424.08V149.23H424.47V149.92H424.85V149.34H425.24V149.08H425.63V149.81H426.02V148.97H426.41V148.92H426.8V149.66H427.19V148.86H427.58V149.04H427.96V148.72H428.35V149.13H428.74V148.62H429.13V148.54H429.52V149.41H429.91V148.63H430.3V148.29H430.68V149.29H431.07V149.06H431.46V148.92H431.85V149.34H432.24V149.32H432.63V149.44H433.02V149.47H433.41V149.28H433.79V149.79H434.18V149.79H434.57V149.95H434.96V149.74H435.35V149.61H435.74V149.95H436.13V149.95H436.51V149.54H436.9V149.95H437.29V149.95H437.68V149.95H438.07V149.72H438.46V149.95H438.85V149.95H439.24V149.95H439.62V149.95H440.01V149.29H440.4V149.95H440.79V149.71H441.18V149.15H441.57V148.69H441.96V149.18H442.34V149.65H442.73V149.84H443.12V148.89H443.51V149.61H443.9V148.18H444.29V148.07H444.68V149.93H445.07V149.95H445.45V149.88H445.84V149.95H446.23V149.23H446.62V148.72H447.01V149.06H447.4V149.95H447.79V148.95H448.18V149.09H448.56V149.22H448.95V149.2H449.34V149.07H449.73V149.95H450.12V148.24H450.51V147.75H450.9V149.71H451.28V149.42H451.67V149.51H452.06V148.12H452.45V149.13H452.84V148.93H453.23V147.19H453.62V148.22H454.01V148.3H454.39V147.73H454.78V147.23H455.17V146.54H455.56V146.49H455.95V146.06H456.34V145.52H456.73V146.52H457.11V145.67H457.5V146.67H457.89V144.84H458.28V146.67H458.67V146.09H459.06V146.43H459.45V146.28H459.84V145.39H460.22V143.96H460.61V145.45H461V144H461.39V144.13H461.78V144.81H462.17V144.22H462.56V145.51H462.94V144.89H463.33V144.39H463.72V144.3H464.11V144.87H464.5V145.49H464.89V144.45H465.28V144.04H465.67V144.76H466.05V145.36H466.44V143.87H466.83V145.23H467.22V145.32H467.61V145.49H468V143.78H468.39V145.31H468.77V145.97H469.16V145.13H469.55V146.02H469.94V147.5H470.33V144.03H470.72V144.69H471.11V145.92H471.5V144.72H471.88V145.39H472.27V146.1H472.66V146.64H473.05V148.98H473.44V148.87H473.83V147.3H474.22V148.39H474.6V148.13H474.99V148.28H475.38V148.52H475.77V149.35H476.16V149.05H476.55V149.14H476.94V149.92H477.33V149.68H477.71V149.62H478.1V149.03H478.49V149.56H478.88V149.95H479.27V149.78H479.66V149.33H480.05V148.81H480.43V148.4H480.82V149.29H481.21V148.42H481.6V148.62H481.99V148.86H482.38V145.93H482.77V140.09H483.16V139.85H483.54V139.62H483.93V140.7H484.32V140.63H484.71V140.06H485.1V141.36H485.49V140.46H485.88V140.6H486.26V139.72H486.65V139.73H487.04V141.14H487.43V140.1H487.82V140.48H488.21V141.81H488.6V141.5H488.99V142.35H489.37V140.88H489.76V140.95H490.15V140.16H490.54V140.1H490.93V140.11H491.32V139.68H491.71V139.79H492.09V140.55H492.48V140.6H492.87V140.24H493.26V138.78H493.65V140.37H494.04V140.22H494.43V138.39H494.82V139.88H495.2V140.14H495.59V138.2H495.98V139.73H496.37V138.02H496.76V138.4H497.15V138.03H497.54V138.65H497.92V138.24H498.31V140.04H498.7V138.47H499.09V139.13H499.48V140.05H499.87V138.45H500.26V137.88H500.65V139.7H501.03V138.96H501.42V138.28H501.81V137.54H502.2V138.72H502.59V138.56H502.98V137.59H503.37V137.14H503.75V137.81H504.14V137.72H504.53V138.51H504.92V140.04H505.31V142.47H505.7V139.84H506.09V121.39H506.48V137.23H506.86V150.85Z" fill="#0c2cfa" stroke="none"/>
<path d="M383.85 123.81L384.04 122.96L384.24 122.12L384.43 121.28L384.63 120.43L384.82 119.45L385.02 118.46L385.21 117.48L385.4 116.49L385.6 115.58L385.79 114.67L385.99 113.75L386.18 112.84L386.38 111.99L386.57 111.15L386.77 110.31L386.96 109.46L387.15 108.76L387.35 108.06L387.54 107.35L387.74 106.65L387.93 106.16L388.13 105.66L388.32 105.17L388.51 104.68L388.71 104.33L388.9 103.98L389.1 103.62L389.29 103.27L389.49 103.04L389.68 102.8L389.87 102.57L390.07 102.34L390.26 102.1L390.46 101.87L390.65 101.75L390.85 101.64L391.04 101.53L391.23 101.42L391.43 101.3L391.62 101.19L391.82 101.08L392.01 100.97L392.21 100.97L392.4 100.97L392.6 100.97L392.79 100.97L392.98 100.97L393.18 100.97L393.37 100.97L393.57 100.97L393.76 100.97L393.96 100.97L394.15 100.97L394.34 100.97L394.54 100.97L394.73 100.97L394.93 100.97L395.12 100.97L395.32 100.97L395.51 100.97L395.7 100.97L395.9 100.97L396.09 100.97L396.29 100.97L396.48 100.97L396.68 100.97L396.87 100.97L397.06 100.97L397.26 100.97L397.45 100.97L397.65 100.97L397.84 100.97L398.04 100.97L398.23 100.97L398.43 100.97L398.62 100.97L398.81 100.97L399.01 100.97L399.2 100.97L399.4 100.97L399.59 100.88L399.79 100.79L399.98 100.7L400.17 100.61L400.37 100.52L400.56 100.44L400.76 100.35L400.95 100.26L401.15 100.17L401.34 100.08L401.53 99.99L401.73 99.91L401.92 99.82L402.12 99.73L402.31 99.62L402.51 99.51L402.7 99.4L402.89 99.29L403.09 99.19L403.28 99.08L403.48 98.97L403.67 98.86L403.87 98.75L404.06 98.64L404.26 98.54L404.45 98.43L404.64 98.32L404.84 98.21L405.03 98.16L405.23 98.1L405.42 98.05L405.62 98L405.81 97.95L406 97.89L406.2 97.84L406.39 97.79L406.59 97.73L406.78 97.68L406.98 97.63L407.17 97.58L407.36 97.52L407.56 97.47L407.75 97.42L407.95 97.37L408.14 97.34L408.34 97.32L408.53 97.3L408.72 97.28L408.92 97.26L409.11 97.24L409.31 97.22L409.5 97.2L409.7 97.18L409.89 97.15L410.09 97.13L410.28 97.11L410.47 97.09L410.67 97.07L410.86 97.05L411.06 97.03L411.25 97.03L411.45 97.03L411.64 97.02L411.83 97.02L412.03 97.02L412.22 97.02L412.42 97.02L412.61 97.02L412.81 97.02L413 97.02L413.19 97.02L413.39 97.01L413.58 97.01L413.78 97.01L413.97 97.01L414.17 97.01L414.36 97.01L414.55 97.01L414.75 97.01L414.94 97L415.14 97L415.33 97L415.53 97L415.72 97L415.92 97L416.11 97L416.3 97L416.5 97L416.69 96.99L416.89 96.99L417.08 96.99L417.28 96.99L417.47 96.99L417.66 96.99L417.86 96.99L418.05 96.99L418.25 96.98L418.44 96.98L418.64 96.98L418.83 96.98L419.02 96.98L419.22 96.98L419.41 96.98L419.61 96.98L419.8 96.98L420 96.97L420.19 96.97L420.39 96.97L420.58 96.97L420.77 96.97L420.97 96.97L421.16 96.97L421.36 96.97L421.55 96.96L421.75 96.96L421.94 96.96L422.13 96.96L422.33 96.96L422.52 96.96L422.72 96.96L422.91 96.96L423.11 96.96L423.3 96.95L423.49 96.95L423.69 96.95L423.88 96.95L424.08 96.95L424.27 96.95L424.47 96.95L424.66 96.95L424.85 96.94L425.05 96.94L425.24 96.94L425.44 96.94L425.63 96.94L425.83 96.94L426.02 96.94L426.22 96.94L426.41 96.94L426.6 96.93L426.8 96.93L426.99 96.93L427.19 96.93L427.38 96.93L427.58 96.93L427.77 96.93L427.96 96.93L428.16 96.92L428.35 96.92L428.55 96.92L428.74 96.92L428.94 96.92L429.13 96.92L429.32 96.92L429.52 96.92L429.71 96.92L429.91 96.86L430.1 96.8L430.3 96.74L430.49 96.68L430.68 96.62L430.88 96.56L431.07 96.5L431.27 96.44L431.46 96.38L431.66 96.32L431.85 96.26L432.05 96.2L432.24 96.14L432.43 96.08L432.63 96.02L432.82 95.96L433.02 95.87L433.21 95.77L433.41 95.68L433.6 95.59L433.79 95.5L433.99 95.4L434.18 95.31L434.38 95.22L434.57 95.13L434.77 95.03L434.96 94.94L435.15 94.85L435.35 94.76L435.54 94.67L435.74 94.62L435.93 94.57L436.13 94.52L436.32 94.47L436.51 94.42L436.71 94.38L436.9 94.33L437.1 94.28L437.29 94.23L437.49 94.18L437.68 94.13L437.88 94.09L438.07 94.04L438.26 93.99L438.46 93.94L438.65 93.9L438.85 93.85L439.04 93.81L439.24 93.76L439.43 93.72L439.62 93.67L439.82 93.63L440.01 93.58L440.21 93.54L440.4 93.49L440.6 93.45L440.79 93.4L440.98 93.36L441.18 93.31L441.37 93.27L441.57 93.22L441.76 93.18L441.96 93.13L442.15 93.09L442.34 92.99L442.54 92.9L442.73 92.8L442.93 92.71L443.12 92.61L443.32 92.52L443.51 92.42L443.71 92.32L443.9 92.23L444.09 92.13L444.29 92.04L444.48 91.94L444.68 91.85L444.87 91.75L445.07 91.66L445.26 91.56L445.45 91.46L445.65 91.37L445.84 91.27L446.04 91.18L446.23 91.04L446.43 90.91L446.62 90.77L446.81 90.64L447.01 90.5L447.2 90.37L447.4 90.23L447.59 90.1L447.79 89.96L447.98 89.83L448.18 89.69L448.37 89.56L448.56 89.42L448.76 89.29L448.95 89.15L449.15 89.02L449.34 88.88L449.54 88.75L449.73 88.61L449.92 88.48L450.12 88.32L450.31 88.17L450.51 88.01L450.7 87.86L450.9 87.7L451.09 87.55L451.28 87.39L451.48 87.24L451.67 87.08L451.87 86.93L452.06 86.77L452.26 86.62L452.45 86.47L452.64 86.31L452.84 86.16L453.03 86L453.23 85.85L453.42 85.69L453.62 85.54L453.81 85.38L454.01 85.24L454.2 85.09L454.39 84.94L454.59 84.8L454.78 84.65L454.98 84.5L455.17 84.36L455.37 84.21L455.56 84.07L455.75 83.92L455.95 83.77L456.14 83.63L456.34 83.48L456.53 83.33L456.73 83.19L456.92 83.04L457.11 82.9L457.31 82.75L457.5 82.6L457.7 82.46L457.89 82.34L458.09 82.23L458.28 82.12L458.47 82.01L458.67 81.89L458.86 81.78L459.06 81.67L459.25 81.56L459.45 81.44L459.64 81.33L459.84 81.22L460.03 81.11L460.22 80.99L460.42 80.88L460.61 80.77L460.81 80.66L461 80.54L461.2 80.43L461.39 80.32L461.58 80.21L461.78 80.11L461.97 80.01L462.17 79.91L462.36 79.81L462.56 79.71L462.75 79.62L462.94 79.52L463.14 79.42L463.33 79.32L463.53 79.22L463.72 79.12L463.92 79.02L464.11 78.93L464.3 78.83L464.5 78.73L464.69 78.63L464.89 78.53L465.08 78.43L465.28 78.34L465.47 78.24L465.67 78.15L465.86 78.07L466.05 77.98L466.25 77.9L466.44 77.82L466.64 77.73L466.83 77.65L467.03 77.56L467.22 77.48L467.41 77.39L467.61 77.31L467.8 77.22L468 77.14L468.19 77.06L468.39 76.97L468.58 76.89L468.77 76.8L468.97 76.72L469.16 76.63L469.36 76.55L469.55 76.48L469.75 76.41L469.94 76.34L470.13 76.27L470.33 76.2L470.52 76.13L470.72 76.06L470.91 75.99L471.11 75.92L471.3 75.85L471.5 75.78L471.69 75.71L471.88 75.64L472.08 75.56L472.27 75.49L472.47 75.42L472.66 75.35L472.86 75.28L473.05 75.21L473.24 75.14L473.44 75.09L473.63 75.03L473.83 74.97L474.02 74.92L474.22 74.86L474.41 74.81L474.6 74.75L474.8 74.69L474.99 74.64L475.19 74.58L475.38 74.52L475.58 74.47L475.77 74.41L475.96 74.36L476.16 74.3L476.35 74.24L476.55 74.19L476.74 74.13L476.94 74.07L477.13 74.02L477.33 73.93L477.52 73.85L477.71 73.76L477.91 73.68L478.1 73.6L478.3 73.51L478.49 73.43L478.69 73.34L478.88 73.26L479.07 73.17L479.27 73.09L479.46 73.01L479.66 72.92L479.85 72.84L480.05 72.75L480.24 72.67L480.43 72.58L480.63 72.5L480.82 72.41L481.02 72.33L481.21 72.2L481.41 72.08L481.6 71.95L481.8 71.82L481.99 71.7L482.18 71.57L482.38 71.44L482.57 71.32L482.77 71.19L482.96 71.06L483.16 70.94L483.35 70.81L483.54 70.68L483.74 70.56L483.93 70.43L484.13 70.3L484.32 70.18L484.52 70.05L484.71 69.92L484.9 69.8L485.1 69.62L485.29 69.43L485.49 69.25L485.68 69.07L485.88 68.88L486.07 68.7L486.26 68.52L486.46 68.34L486.65 68.15L486.85 67.97L487.04 67.79L487.24 67.6L487.43 67.42L487.63 67.24L487.82 67.06L488.01 66.87L488.21 66.69L488.4 66.51L488.6 66.32L488.79 66.14L488.99 65.99L489.18 65.83L489.37 65.68L489.57 65.52L489.76 65.37L489.96 65.21L490.15 65.06L490.35 64.9L490.54 64.75L490.73 64.59L490.93 64.44L491.12 64.28L491.32 64.13L491.51 63.98L491.71 63.82L491.9 63.67L492.09 63.51L492.29 63.36L492.48 63.2L492.68 63.05L492.87 62.94L493.07 62.84L493.26 62.73L493.46 62.63L493.65 62.53L493.84 62.42L494.04 62.32L494.23 62.21L494.43 62.11L494.62 62.01L494.82 61.9L495.01 61.8L495.2 61.69L495.4 61.59L495.59 61.49L495.79 61.38L495.98 61.28L496.18 61.17L496.37 61.07L496.56 60.97L496.76 60.82L496.95 60.67L497.15 60.52L497.34 60.37L497.54 60.22L497.73 60.07L497.92 59.92L498.12 59.77L498.31 59.62L498.51 59.47L498.7 59.33L498.9 59.18L499.09 59.03L499.29 58.88L499.48 58.73L499.67 58.58L499.87 58.43L500.06 58.28L500.26 58.13L500.45 57.98L500.65 57.83L500.84 57.67L501.03 57.52L501.23 57.36L501.42 57.21L501.62 57.06L501.81 56.9L502.01 56.75L502.2 56.59L502.39 56.44L502.59 56.28L502.78 56.13L502.98 55.97L503.17 55.82L503.37 55.66L503.56 55.51L503.75 55.35L503.95 55.2L504.14 55.04L504.34 54.89L504.53 54.75L504.73 54.61L504.92 54.47L505.12 54.33L505.31 54.19L505.5 54.05L505.7 53.9L505.89 53.76L506.09 53.62L506.28 53.48L506.48 53.34L506.67 53.2" fill="none" stroke="#2448ff" stroke-width="1.5" stroke-linejoin="round"/>
<path d="M383.85 122.68L384.24 120.77L384.63 119.21L385.02 116.88L385.4 115.21L385.79 113.15L386.18 111.38L386.26 111.79L386.57 113.66L386.96 114.8L387.04 116.03L387.35 113.04L387.74 108.23L388.13 108.15L388.51 106.87L388.9 107.36L389.29 107.14L389.68 107.8L390.07 107.14L390.46 106.83L390.85 107.29L391.23 106.87L391.62 106.83L392.01 107.53L392.4 106.46L392.79 106.56L393.18 106.82L393.57 107.06L393.96 105.8L394.34 106.2L394.73 105.74L395.12 105.4L395.43 105.52L395.51 105.22L395.9 105.82L396.29 105.17L396.68 105.55L397.06 104.78L397.45 104.75L397.84 105.7L398.23 105.55L398.62 105.33L399.01 104.22L399.4 104.83L399.63 104.51L399.79 104.86L400.17 104.37L400.56 104.31L400.95 104.14L401.34 103.61L401.65 103.44L401.73 102.99L402.12 103.22L402.51 102.81L402.89 102.84L403.28 102.58L403.67 102.94L404.06 103.56L404.45 102.54L404.64 102.36L404.84 102.41L405.23 102.79L405.62 102.52L406 103.12L406.39 102.21L406.78 102.48L407.17 102.79L407.56 103.02L407.95 101.59L408.34 101.05L408.72 101.9L409.11 100.58L409.5 100.75L409.62 100.99L409.89 100.48L410.28 99.4L410.67 98.82L411.06 99.49L411.45 98.28L411.64 98.82L411.83 98.09L412.22 98.97L412.61 98.58L413 98.8L413.39 99.79L413.62 99.34L413.78 100.06L414.17 99.86L414.55 98.63L414.94 98.88L415.33 98.14L415.6 97.49L415.72 97.19L416.11 97.71L416.5 97.77L416.89 96.56L417.28 97.22L417.66 96.25L418.05 96.25L418.44 96.85L418.83 96.65L419.22 96.47L419.61 96.21L420 96.25L420.39 96.26L420.77 96.14L421.16 95.67L421.55 96.22L421.94 96.29L422.33 95.87L422.72 96.48L423.11 96.36L423.49 95.41L423.88 96L424.27 95.92L424.66 96.61L425.05 96.03L425.44 95.78L425.83 96.5L426.22 95.66L426.6 95.6L426.99 96.34L427.38 95.54L427.77 95.72L428.16 95.4L428.55 95.8L428.94 95.29L429.32 95.21L429.6 96.15L429.71 96.08L430.1 95.17L430.49 94.71L430.88 95.6L431.27 95.25L431.66 94.99L432.05 95.28L432.43 95.15L432.82 95.15L433.21 95L433.6 94.62L433.99 94.94L434.38 94.76L434.61 94.18L434.77 95.16L435.15 94.34L435.54 94.02L435.93 94.51L436.32 94.54L436.71 93.67L437.1 94.34L437.49 94.32L437.88 93.9L438.26 93.46L438.65 94.18L439.04 93.79L439.43 93.69L439.59 92.98L439.82 93.37L440.21 92.58L440.6 93.28L440.98 92.82L441.37 92.17L441.76 91.62L442.15 92.02L442.54 92.3L442.93 92.3L443.32 91.15L443.71 91.68L444.09 90.07L444.48 89.77L444.72 91.1L444.87 91.43L445.26 91.61L445.65 91.74L446.04 91.13L446.43 91.92L446.81 92.17L447.2 91.56L447.59 90.19L447.98 91.12L448.37 90.71L448.76 90.31L449.15 90.06L449.54 89.93L449.92 88.62L450.31 90.18L450.7 90.36L451.09 88.08L451.48 88.07L451.87 87.67L452.26 88.75L452.64 87.43L453.03 87.32L453.42 88.75L453.81 87.41L454.2 87.04L454.59 87.32L454.98 87.52L455.37 87.92L455.75 87.68L456.14 87.82L456.53 88.06L456.92 86.77L457.31 87.33L457.7 86.04L458.09 87.64L458.47 85.59L458.86 85.94L459.17 85.33L459.25 85.38L459.64 85.31L460.03 85.97L460.42 87.17L460.81 85.46L461.2 86.68L461.58 86.33L461.97 85.45L462.21 85.72L462.36 85.85L462.75 84.36L463.14 84.78L463.53 85.08L463.92 84.97L464.19 83.39L464.3 84.21L464.69 83.39L465.08 84.23L465.47 84.45L465.86 83.56L466.25 82.79L466.64 84.11L467.03 82.58L467.18 82.24L467.41 82.32L467.8 81.98L468.19 83.52L468.58 81.83L468.97 81L469.16 82.68L469.36 81.67L469.75 80.64L470.13 79.02L470.52 82.35L470.91 81.55L471.3 80.18L471.69 81.23L472.08 80.42L472.47 79.57L472.86 78.89L473.13 78.53L473.24 76.41L473.63 76.41L474.02 77.87L474.41 76.67L474.8 76.81L475.19 76.55L475.58 76.19L475.96 75.26L476.12 75.29L476.35 75.44L476.74 75.24L477.13 74.35L477.52 74.41L477.91 73.05L478.3 72.29L478.69 72.66L479.07 72.94L479.46 72.54L479.85 71.92L480.24 71.22L480.63 70.64L481.02 71.37L481.41 70.25L481.8 70.2L482.18 70.18L482.38 70.09L482.57 66.99L482.96 60.9L483.35 60.41L483.54 59.23L483.74 59.93L484.13 60.75L484.52 60.43L484.9 59.61L485.29 60.54L485.68 59.28L486.07 59.05L486.46 57.8L486.85 57.45L487.24 58.49L487.63 57.09L488.01 57.1L488.4 58.07L488.79 57.39L489.18 57.93L489.57 56.15L489.96 55.91L490.35 54.82L490.73 54.45L491.12 54.14L491.51 53.41L491.9 53.21L492.29 53.66L492.56 52.16L492.68 53.4L493.07 52.83L493.46 51.16L493.84 52.55L494.23 52.19L494.54 51.97L494.62 50.15L495.01 51.43L495.4 51.48L495.79 49.34L496.18 50.66L496.56 48.73L496.95 48.82L497.34 48.15L497.54 47.74L497.73 48.47L498.12 47.76L498.51 49.26L498.9 47.4L499.29 47.76L499.56 47.15L499.67 48.38L500.06 46.48L500.45 45.61L500.84 47.12L501.23 46.08L501.62 45.09L502.01 44.04L502.39 44.91L502.55 44.86L502.78 44.43L503.17 43.16L503.56 42.4L503.95 42.75L504.34 42.36L504.53 42.07L504.73 42.87L505.12 44.11L505.5 46.26L505.89 43.36L506.28 24.63L506.67 40.18" fill="none" stroke="#ff2424" stroke-width="1.25" stroke-linejoin="round"/>
<text x="380.45" y="153.15" font-size="10" text-anchor="end" >0</text>
<text x="380.45" y="125.02" font-size="10" text-anchor="end" >50</text>
<text x="380.45" y="96.89" font-size="10" text-anchor="end" >100</text>
<text x="380.45" y="68.76" font-size="10" text-anchor="end" >150</text>
<text x="380.45" y="40.63" font-size="10" text-anchor="end" >200</text>
<text x="380.45" y="12.5" font-size="10" text-anchor="end" >250</text>
<text x="383.85" y="161.55" font-size="10" text-anchor="middle" >0</text>
<text x="403.28" y="161.55" font-size="10" text-anchor="middle" >50</text>
<text x="422.72" y="161.55" font-size="10" text-anchor="middle" >100</text>
<text x="442.15" y="161.55" font-size="10" text-anchor="middle" >150</text>
<text x="461.58" y="161.55" font-size="10" text-anchor="middle" >200</text>
<text x="481.02" y="161.55" font-size="10" text-anchor="middle" >250</text>
<text x="500.45" y="161.55" font-size="10" text-anchor="middle" >300</text>
<text x="448.18" y="178.85" font-size="11.6" text-anchor="middle" font-weight="bold" textLength="78.4" lengthAdjust="spacingAndGlyphs">Cutting Number</text>
<text transform="translate(362.25 79.33) rotate(-90)" font-size="11.5" font-weight="bold" text-anchor="middle" textLength="64" lengthAdjust="spacingAndGlyphs">Tool wear(&#956;m)</text>
<text x="426.05" y="192.85" font-size="10" text-anchor="start" >(c)BiGRU</text>
<rect x="388.85" y="12.1" width="75.8" height="31.5" fill="#fff" stroke="#888" stroke-width="1"/>
<path d="M389.85 17.8h18.5" stroke="#2046ff" stroke-width="1.3"/>
<path d="M389.85 28h18.5" stroke="#ff2424" stroke-width="1.1"/>
<rect x="390.05" y="33.8" width="18" height="8.6" fill="#1a6bff" stroke="#1450e0" stroke-width="0.5"/>
<text x="410.25" y="20.7" font-size="8" text-anchor="start" font-weight="bold" >actual value</text>
<text x="410.25" y="30.9" font-size="8" text-anchor="start" font-weight="bold" >estimated value</text>
<text x="410.25" y="41.1" font-size="8" text-anchor="start" font-weight="bold" >error</text>
<rect x="35.75" y="201.55" width="128.75" height="140.8" fill="none" stroke="#1a1a1a" stroke-width="1.3"/>
<path d="M35.75 342.35h2.8M35.75 328.27h1.6M35.75 314.19h2.8M35.75 300.11h1.6M35.75 286.03h2.8M35.75 271.95h1.6M35.75 257.87h2.8M35.75 243.79h1.6M35.75 229.71h2.8M35.75 215.63h1.6M35.75 201.55h2.8M35.75 342.35v-2.8M45.47 342.35v-1.6M55.2 342.35v-2.8M64.92 342.35v-1.6M74.65 342.35v-2.8M84.37 342.35v-1.6M94.1 342.35v-2.8M103.82 342.35v-1.6M113.54 342.35v-2.8M123.27 342.35v-1.6M132.99 342.35v-2.8M142.72 342.35v-1.6M152.44 342.35v-2.8M162.17 342.35v-1.6" stroke="#111" stroke-width="1"/>
<path d="M36.25 342.95V339.25H35.94V337.77H36.33V336.67H36.72V335.66H37.11V335.91H37.5V338.53H37.89V340.52H38.28V340.92H38.67V342.05H39.06V341.53H39.45V339.86H39.83V337.95H40.22V335.2H40.61V334.12H41V335.36H41.39V337.72H41.78V337.15H42.17V336.69H42.56V336.5H42.95V335.43H43.33V335.41H43.72V335.94H44.11V336.3H44.5V336.51H44.89V335.53H45.28V336.46H45.67V336.02H46.06V334.93H46.45V334.75H46.84V333.57H47.22V334.2H47.61V334.74H48V334.92H48.39V335.2H48.78V336.73H49.17V336.88H49.56V337.76H49.95V337.33H50.34V337.27H50.73V337.61H51.11V337.44H51.5V336.95H51.89V337.05H52.28V337.69H52.67V336.46H53.06V336.37H53.45V337.11H53.84V336.5H54.23V336.73H54.62V336.37H55V337.35H55.39V336.19H55.78V336.53H56.17V336.23H56.56V336.88H56.95V336.49H57.34V336.73H57.73V336.92H58.12V337.56H58.5V338.36H58.89V337.48H59.28V337.71H59.67V339.97H60.06V341.65H60.45V341.69H60.84V339.64H61.23V335.9H61.62V334.71H62.01V338.44H62.39V341.51H62.78V341.58H63.17V341.28H63.56V341.64H63.95V340.29H64.34V340.71H64.73V341.73H65.12V341.47H65.51V340.96H65.9V341.77H66.28V341.32H66.67V341.64H67.06V340.9H67.45V340.77H67.84V341.17H68.23V340.74H68.62V341.13H69.01V342H69.4V341.11H69.79V340.66H70.17V340.73H70.56V340.93H70.95V341.86H71.34V341.26H71.73V341.18H72.12V340.92H72.51V342.05H72.9V341.44H73.29V341.14H73.67V340.95H74.06V340.96H74.45V341.15H74.84V341.92H75.23V338.21H75.62V339.78H76.01V340.53H76.4V340.8H76.79V339.63H77.18V340.83H77.56V340.15H77.95V339.71H78.34V340.17H78.73V339.24H79.12V339.91H79.51V339.93H79.9V340.41H80.29V339.78H80.68V339.96H81.07V338.95H81.45V338.97H81.84V339.51H82.23V340.24H82.62V339.96H83.01V340.03H83.4V340.13H83.79V340.15H84.18V339.26H84.57V340.13H84.96V337.68H85.34V339.53H85.73V340.22H86.12V341.08H86.51V340.36H86.9V340.73H87.29V340.54H87.68V340.53H88.07V340.82H88.46V341.33H88.84V341.07H89.23V340.02H89.62V339.91H90.01V339.79H90.4V340.56H90.79V340.01H91.18V339.71H91.57V339.67H91.96V340.23H92.35V340.17H92.73V340.26H93.12V341.01H93.51V340.18H93.9V340.27H94.29V341.8H94.68V340.6H95.07V341.04H95.46V341.97H95.85V340.73H96.24V341.87H96.62V340.65H97.01V341.11H97.4V342.01H97.79V341.86H98.18V341.27H98.57V341.46H98.96V341.29H99.35V341.12H99.74V342.05H100.12V342.05H100.51V341.38H100.9V341.91H101.29V341.61H101.68V341.89H102.07V341.92H102.46V342.05H102.85V342.05H103.24V342.03H103.63V342.05H104.01V341.28H104.4V341.84H104.79V341.21H105.18V341.91H105.57V341.61H105.96V341.05H106.35V341.02H106.74V340.18H107.13V340.08H107.52V340.79H107.9V340.52H108.29V340.96H108.68V340.48H109.07V339.68H109.46V339.9H109.85V340.29H110.24V339.72H110.63V338.77H111.02V339.78H111.41V339.56H111.79V338.27H112.18V338.74H112.57V338.3H112.96V338.69H113.35V337.79H113.74V337.5H114.13V337.69H114.52V336.96H114.91V336.88H115.29V337.51H115.68V337.79H116.07V337.13H116.46V336.91H116.85V337.42H117.24V337.19H117.63V336.07H118.02V337.18H118.41V336.09H118.8V336.17H119.18V336.87H119.57V336.74H119.96V335.77H120.35V336.76H120.74V335.69H121.13V335.6H121.52V336.08H121.91V335.84H122.3V336.11H122.69V336.63H123.07V336.32H123.46V335.27H123.85V335.7H124.24V336.02H124.63V335.91H125.02V336.23H125.41V335.9H125.8V335.31H126.19V336.22H126.58V337.76H126.96V337.71H127.35V338.97H127.74V339.91H128.13V340H128.52V340.69H128.91V341.21H129.3V341.33H129.69V342.04H130.08V341.59H130.46V342.05H130.85V340.8H131.24V340.5H131.63V340.33H132.02V340.16H132.41V340.17H132.8V338.07H133.19V337.57H133.58V336.03H133.97V335.71H134.35V334.68H134.74V337.66H135.13V339.76H135.52V340.27H135.91V338.8H136.3V339.17H136.69V339.01H137.08V338.69H137.47V339.53H137.86V339.14H138.24V338.43H138.63V339.61H139.02V338.99H139.41V339.53H139.8V339.57H140.19V339.98H140.58V339.99H140.97V338.57H141.36V338.7H141.75V338.68H142.13V338.62H142.52V338.35H142.91V339.46H143.3V338.78H143.69V338.86H144.08V338.69H144.47V338.1H144.86V338.22H145.25V337.77H145.63V338.87H146.02V337.94H146.41V337.75H146.8V337.51H147.19V337.54H147.58V337.09H147.97V337.71H148.36V336.65H148.75V337.36H149.14V337.02H149.52V336.53H149.91V336.18H150.3V336.12H150.69V335.6H151.08V334.83H151.47V333.76H151.86V332.58H152.25V332.09H152.64V331.77H153.03V329.66H153.41V328.95H153.8V327.78H154.19V327.37H154.58V327.44H154.97V330.81H155.36V334.52H155.75V331.78H156.14V327.81H156.53V327.08H156.92V330.31H157.3V332.08H157.69V329.9H158.08V327.84H158.47V326.15H158.86V335.58H159.25V342.95Z" fill="#0c2cfa" stroke="none"/>
<path d="M35.75 315.88L35.94 315.03L36.14 314.19L36.33 313.35L36.53 312.5L36.72 311.51L36.92 310.53L37.11 309.54L37.31 308.56L37.5 307.64L37.69 306.73L37.89 305.81L38.08 304.9L38.28 304.05L38.47 303.21L38.67 302.36L38.86 301.52L39.06 300.81L39.25 300.11L39.45 299.41L39.64 298.7L39.83 298.21L40.03 297.72L40.22 297.22L40.42 296.73L40.61 296.38L40.81 296.03L41 295.67L41.2 295.32L41.39 295.09L41.58 294.85L41.78 294.62L41.97 294.38L42.17 294.15L42.36 293.91L42.56 293.8L42.75 293.69L42.95 293.58L43.14 293.46L43.33 293.35L43.53 293.24L43.72 293.13L43.92 293.01L44.11 293.01L44.31 293.01L44.5 293.01L44.7 293.01L44.89 293.01L45.09 293.01L45.28 293.01L45.47 293.01L45.67 293.01L45.86 293.01L46.06 293.01L46.25 293.01L46.45 293.01L46.64 293.01L46.84 293.01L47.03 293.01L47.22 293.01L47.42 293.01L47.61 293.01L47.81 293.01L48 293.01L48.2 293.01L48.39 293.01L48.59 293.01L48.78 293.01L48.98 293.01L49.17 293.01L49.36 293.01L49.56 293.01L49.75 293.01L49.95 293.01L50.14 293.01L50.34 293.01L50.53 293.01L50.73 293.01L50.92 293.01L51.11 293.01L51.31 293.01L51.5 292.93L51.7 292.84L51.89 292.75L52.09 292.66L52.28 292.57L52.48 292.48L52.67 292.39L52.86 292.31L53.06 292.22L53.25 292.13L53.45 292.04L53.64 291.95L53.84 291.86L54.03 291.77L54.23 291.67L54.42 291.56L54.62 291.45L54.81 291.34L55 291.23L55.2 291.12L55.39 291.01L55.59 290.91L55.78 290.8L55.98 290.69L56.17 290.58L56.37 290.47L56.56 290.36L56.75 290.25L56.95 290.2L57.14 290.15L57.34 290.1L57.53 290.04L57.73 289.99L57.92 289.94L58.12 289.88L58.31 289.83L58.5 289.78L58.7 289.73L58.89 289.67L59.09 289.62L59.28 289.57L59.48 289.51L59.67 289.46L59.87 289.41L60.06 289.39L60.26 289.37L60.45 289.35L60.64 289.32L60.84 289.3L61.03 289.28L61.23 289.26L61.42 289.24L61.62 289.22L61.81 289.2L62.01 289.18L62.2 289.16L62.39 289.13L62.59 289.11L62.78 289.09L62.98 289.07L63.17 289.07L63.37 289.07L63.56 289.07L63.76 289.07L63.95 289.07L64.15 289.06L64.34 289.06L64.53 289.06L64.73 289.06L64.92 289.06L65.12 289.06L65.31 289.06L65.51 289.06L65.7 289.05L65.9 289.05L66.09 289.05L66.28 289.05L66.48 289.05L66.67 289.05L66.87 289.05L67.06 289.05L67.26 289.05L67.45 289.04L67.65 289.04L67.84 289.04L68.03 289.04L68.23 289.04L68.42 289.04L68.62 289.04L68.81 289.04L69.01 289.03L69.2 289.03L69.4 289.03L69.59 289.03L69.79 289.03L69.98 289.03L70.17 289.03L70.37 289.03L70.56 289.03L70.76 289.02L70.95 289.02L71.15 289.02L71.34 289.02L71.54 289.02L71.73 289.02L71.92 289.02L72.12 289.02L72.31 289.01L72.51 289.01L72.7 289.01L72.9 289.01L73.09 289.01L73.29 289.01L73.48 289.01L73.67 289.01L73.87 289.01L74.06 289L74.26 289L74.45 289L74.65 289L74.84 289L75.04 289L75.23 289L75.43 289L75.62 289L75.81 288.99L76.01 288.99L76.2 288.99L76.4 288.99L76.59 288.99L76.79 288.99L76.98 288.99L77.18 288.99L77.37 288.98L77.56 288.98L77.76 288.98L77.95 288.98L78.15 288.98L78.34 288.98L78.54 288.98L78.73 288.98L78.93 288.98L79.12 288.97L79.31 288.97L79.51 288.97L79.7 288.97L79.9 288.97L80.09 288.97L80.29 288.97L80.48 288.97L80.68 288.96L80.87 288.96L81.07 288.96L81.26 288.96L81.45 288.96L81.65 288.96L81.84 288.9L82.04 288.84L82.23 288.78L82.43 288.72L82.62 288.66L82.82 288.6L83.01 288.54L83.2 288.48L83.4 288.42L83.59 288.36L83.79 288.3L83.98 288.24L84.18 288.18L84.37 288.12L84.57 288.06L84.76 288L84.96 287.91L85.15 287.82L85.34 287.72L85.54 287.63L85.73 287.54L85.93 287.45L86.12 287.35L86.32 287.26L86.51 287.17L86.71 287.08L86.9 286.98L87.09 286.89L87.29 286.8L87.48 286.71L87.68 286.66L87.87 286.61L88.07 286.56L88.26 286.51L88.46 286.46L88.65 286.42L88.84 286.37L89.04 286.32L89.23 286.27L89.43 286.22L89.62 286.17L89.82 286.13L90.01 286.08L90.21 286.03L90.4 285.98L90.6 285.94L90.79 285.89L90.98 285.85L91.18 285.8L91.37 285.76L91.57 285.71L91.76 285.67L91.96 285.62L92.15 285.58L92.35 285.53L92.54 285.49L92.73 285.44L92.93 285.4L93.12 285.35L93.32 285.31L93.51 285.26L93.71 285.22L93.9 285.17L94.1 285.13L94.29 285.03L94.48 284.94L94.68 284.84L94.87 284.75L95.07 284.65L95.26 284.55L95.46 284.46L95.65 284.36L95.85 284.27L96.04 284.17L96.24 284.08L96.43 283.98L96.62 283.88L96.82 283.79L97.01 283.69L97.21 283.6L97.4 283.5L97.6 283.41L97.79 283.31L97.99 283.21L98.18 283.08L98.37 282.94L98.57 282.81L98.76 282.67L98.96 282.54L99.15 282.4L99.35 282.27L99.54 282.13L99.74 282L99.93 281.86L100.12 281.73L100.32 281.59L100.51 281.46L100.71 281.32L100.9 281.19L101.1 281.05L101.29 280.92L101.49 280.78L101.68 280.65L101.88 280.51L102.07 280.36L102.26 280.2L102.46 280.05L102.65 279.89L102.85 279.74L103.04 279.58L103.24 279.43L103.43 279.27L103.63 279.12L103.82 278.96L104.01 278.81L104.21 278.65L104.4 278.5L104.6 278.34L104.79 278.19L104.99 278.03L105.18 277.88L105.38 277.72L105.57 277.57L105.77 277.41L105.96 277.27L106.15 277.12L106.35 276.97L106.54 276.83L106.74 276.68L106.93 276.53L107.13 276.39L107.32 276.24L107.52 276.1L107.71 275.95L107.9 275.8L108.1 275.66L108.29 275.51L108.49 275.36L108.68 275.22L108.88 275.07L109.07 274.92L109.27 274.78L109.46 274.63L109.65 274.48L109.85 274.37L110.04 274.26L110.24 274.15L110.43 274.03L110.63 273.92L110.82 273.81L111.02 273.7L111.21 273.58L111.41 273.47L111.6 273.36L111.79 273.25L111.99 273.13L112.18 273.02L112.38 272.91L112.57 272.79L112.77 272.68L112.96 272.57L113.16 272.46L113.35 272.34L113.54 272.23L113.74 272.13L113.93 272.03L114.13 271.94L114.32 271.84L114.52 271.74L114.71 271.64L114.91 271.54L115.1 271.44L115.29 271.34L115.49 271.25L115.68 271.15L115.88 271.05L116.07 270.95L116.27 270.85L116.46 270.75L116.66 270.65L116.85 270.56L117.05 270.46L117.24 270.36L117.43 270.26L117.63 270.18L117.82 270.09L118.02 270.01L118.21 269.92L118.41 269.84L118.6 269.75L118.8 269.67L118.99 269.58L119.18 269.5L119.38 269.42L119.57 269.33L119.77 269.25L119.96 269.16L120.16 269.08L120.35 268.99L120.55 268.91L120.74 268.82L120.94 268.74L121.13 268.66L121.32 268.57L121.52 268.5L121.71 268.43L121.91 268.36L122.1 268.29L122.3 268.22L122.49 268.15L122.69 268.08L122.88 268.01L123.07 267.94L123.27 267.87L123.46 267.8L123.66 267.73L123.85 267.66L124.05 267.59L124.24 267.51L124.44 267.44L124.63 267.37L124.82 267.3L125.02 267.23L125.21 267.16L125.41 267.11L125.6 267.05L125.8 266.99L125.99 266.94L126.19 266.88L126.38 266.82L126.58 266.77L126.77 266.71L126.96 266.66L127.16 266.6L127.35 266.54L127.55 266.49L127.74 266.43L127.94 266.37L128.13 266.32L128.33 266.26L128.52 266.21L128.71 266.15L128.91 266.09L129.1 266.04L129.3 265.95L129.49 265.87L129.69 265.78L129.88 265.7L130.08 265.61L130.27 265.53L130.46 265.45L130.66 265.36L130.85 265.28L131.05 265.19L131.24 265.11L131.44 265.02L131.63 264.94L131.83 264.85L132.02 264.77L132.22 264.68L132.41 264.6L132.6 264.52L132.8 264.43L132.99 264.35L133.19 264.22L133.38 264.09L133.58 263.97L133.77 263.84L133.97 263.71L134.16 263.59L134.35 263.46L134.55 263.33L134.74 263.21L134.94 263.08L135.13 262.95L135.33 262.83L135.52 262.7L135.72 262.57L135.91 262.45L136.1 262.32L136.3 262.19L136.49 262.07L136.69 261.94L136.88 261.81L137.08 261.63L137.27 261.45L137.47 261.26L137.66 261.08L137.86 260.9L138.05 260.71L138.24 260.53L138.44 260.35L138.63 260.17L138.83 259.98L139.02 259.8L139.22 259.62L139.41 259.43L139.61 259.25L139.8 259.07L139.99 258.88L140.19 258.7L140.38 258.52L140.58 258.33L140.77 258.15L140.97 258L141.16 257.84L141.36 257.69L141.55 257.53L141.75 257.38L141.94 257.22L142.13 257.07L142.33 256.91L142.52 256.76L142.72 256.6L142.91 256.45L143.11 256.29L143.3 256.14L143.5 255.98L143.69 255.83L143.88 255.67L144.08 255.52L144.27 255.36L144.47 255.21L144.66 255.05L144.86 254.95L145.05 254.85L145.25 254.74L145.44 254.64L145.63 254.53L145.83 254.43L146.02 254.32L146.22 254.22L146.41 254.12L146.61 254.01L146.8 253.91L147 253.8L147.19 253.7L147.39 253.6L147.58 253.49L147.77 253.39L147.97 253.28L148.16 253.18L148.36 253.07L148.55 252.97L148.75 252.82L148.94 252.67L149.14 252.52L149.33 252.37L149.52 252.22L149.72 252.07L149.91 251.93L150.11 251.78L150.3 251.63L150.5 251.48L150.69 251.33L150.89 251.18L151.08 251.03L151.27 250.88L151.47 250.73L151.66 250.58L151.86 250.43L152.05 250.28L152.25 250.13L152.44 249.99L152.64 249.83L152.83 249.68L153.03 249.52L153.22 249.37L153.41 249.21L153.61 249.06L153.8 248.9L154 248.75L154.19 248.59L154.39 248.44L154.58 248.28L154.78 248.13L154.97 247.97L155.16 247.82L155.36 247.66L155.55 247.51L155.75 247.35L155.94 247.2L156.14 247.04L156.33 246.89L156.53 246.75L156.72 246.61L156.92 246.47L157.11 246.32L157.3 246.18L157.5 246.04L157.69 245.9L157.89 245.76L158.08 245.62L158.28 245.48L158.47 245.34L158.67 245.2" fill="none" stroke="#2448ff" stroke-width="1.5" stroke-linejoin="round"/>
<path d="M35.75 312.78L36.14 309.61L36.53 306.82L36.92 303.84L37.15 301.5L37.31 302.12L37.69 302.9L38.08 303.07L38.47 301.78L38.86 301.42L39.25 300.93L39.64 301.19L40.03 302.12L40.42 303.89L40.65 304.87L40.81 304.25L41.2 302.31L41.58 299.48L41.97 299.59L42.36 299.58L42.75 299.54L43.14 300.39L43.53 300.18L43.65 299.7L43.92 299.42L44.31 299.07L44.7 298.85L45.09 299.84L45.47 298.9L45.63 298.73L45.86 299.34L46.25 300.43L46.64 300.61L47.03 301.79L47.42 301.16L47.81 300.62L48.2 300.45L48.59 300.17L48.98 298.63L49.36 298.48L49.64 297.58L49.75 297.61L50.14 298.03L50.53 298.09L50.92 297.75L51.31 297.92L51.7 298.24L52.09 297.96L52.48 297.14L52.86 298.19L53.25 298.11L53.64 297.19L54.03 297.62L54.42 297.18L54.65 297.22L54.81 297.32L55.2 296.13L55.59 297.07L55.98 296.51L56.37 296.59L56.75 295.72L57.14 296.01L57.53 295.66L57.65 295.02L57.92 295.36L58.31 294.62L58.7 293.71L59.09 294.49L59.48 294.15L59.63 293.75L59.87 291.79L60.26 290.06L60.64 288.67L61.03 292L61.42 295.69L61.66 297.35L61.81 296.84L62.2 293.06L62.59 289.96L62.98 289.84L63.37 290.14L63.76 289.78L64.15 291.13L64.53 290.7L64.92 289.68L65.31 289.94L65.7 290.44L66.09 289.63L66.48 290.08L66.87 289.76L67.26 290.5L67.65 290.62L68.03 290.22L68.42 290.65L68.81 290.26L69.2 289.38L69.59 290.28L69.98 290.72L70.37 290.65L70.76 290.44L71.15 289.52L71.54 290.11L71.92 290.19L72.31 290.45L72.7 289.13L73.09 289.92L73.48 290.22L73.87 290.41L74.26 290.39L74.65 290.2L75.04 289.43L75.43 284.85L75.81 286.42L76.2 287.17L76.59 287.44L76.98 286.26L77.37 287.46L77.76 286.78L78.15 286.34L78.54 286.8L78.93 285.87L79.31 286.53L79.67 286.8L79.7 286.55L80.09 287.02L80.48 286.39L80.87 286.57L81.26 285.57L81.65 285.58L82.04 286L82.43 286.61L82.82 286.21L83.2 286.16L83.59 286.14L83.98 286.04L84.37 285.03L84.64 286.05L84.76 285.78L85.15 283.15L85.54 284.81L85.93 285.31L86.32 286L86.71 285.09L87.09 285.28L87.48 284.9L87.87 284.79L88.26 284.98L88.65 285.39L89.04 285.04L89.43 283.9L89.82 283.68L90.21 283.47L90.6 284.15L90.98 283.51L91.37 283.12L91.65 283.23L91.76 282.99L92.15 283.46L92.54 283.31L92.93 283.31L93.32 283.97L93.71 283.05L94.1 283.05L94.48 284.38L94.64 283.09L94.87 282.99L95.26 283.24L95.65 283.98L96.04 282.55L96.43 283.5L96.82 282.09L97.21 282.35L97.6 283.06L97.99 282.73L98.37 281.86L98.76 281.78L99.15 281.34L99.54 280.9L99.93 281.75L100.32 281.88L100.71 280.35L101.1 281.49L101.49 280.04L101.88 280.97L102.26 279.77L102.65 279.62L103.04 279.29L103.43 279.59L103.82 278.92L104.21 279.73L104.6 278.85L104.99 279.17L105.38 278.17L105.77 278.16L106.15 278.42L106.54 278.15L106.93 278.7L107.32 278.51L107.71 277.51L108.1 277.48L108.49 276.75L108.88 276.94L109.27 277.45L109.65 276.94L110.04 276.32L110.43 276.66L110.82 277.39L111.21 276.15L111.6 276.15L111.99 277.21L112.38 276.52L112.77 276.74L113.16 276.12L113.54 276.79L113.93 276.89L114.32 276.49L114.63 275.77L114.71 277.03L115.1 276.92L115.49 276.09L115.88 275.61L116.27 276.07L116.66 276.1L117.05 275.39L117.43 275.42L117.82 276.37L118.21 275.09L118.6 276.01L118.99 275.77L119.38 274.9L119.65 275.44L119.77 274.86L120.16 275.66L120.55 274.5L120.94 275.4L121.32 275.32L121.71 274.7L122.1 274.8L122.49 274.38L122.88 273.73L123.27 273.89L123.66 274.81L124.05 274.24L124.44 273.77L124.82 273.74L125.21 273.28L125.6 273.5L125.99 273.98L126.38 272.96L126.77 271.3L127.16 271.24L127.55 269.87L127.94 268.82L128.33 268.61L128.71 267.81L129.1 267.18L129.49 266.88L129.65 265.71L129.88 266.01L130.27 264.77L130.66 265.06L131.05 263.65L131.44 263.17L131.83 262.83L132.22 262.49L132.6 262.34L132.99 260.06L133.38 259.31L133.77 257.52L134.16 256.94L134.55 255.67L134.94 258.39L135.33 260.23L135.72 260.5L136.1 258.77L136.49 258.89L136.65 258.32L136.88 258.47L137.27 257.78L137.66 258.26L138.05 257.51L138.44 256.43L138.83 257.24L139.22 256.25L139.61 256.43L139.99 256.11L140.38 256.15L140.77 255.79L141.16 254.07L141.55 253.88L141.94 253.56L142.33 253.18L142.72 252.61L143.11 253.41L143.5 252.42L143.88 252.18L144.27 251.71L144.66 250.81L145.05 250.71L145.44 250.05L145.83 250.94L146.22 249.81L146.61 249.42L147 248.96L147.39 248.79L147.77 248.12L148.16 248.54L148.55 247.27L148.94 247.68L149.33 247.04L149.72 246.25L150.11 245.6L150.5 245.25L150.89 244.43L151.27 243.36L151.66 241.99L152.05 240.52L152.44 239.73L152.64 239.99L152.83 239.09L153.22 236.68L153.61 235.66L154 234.17L154.39 233.46L154.62 232.43L154.78 233.22L155.16 236.28L155.55 239.68L155.94 236.63L156.33 232.35L156.64 230.09L156.72 231.34L157.11 234.29L157.5 235.77L157.89 233.31L158.28 230.97L158.67 228.99L159.05 238.43" fill="none" stroke="#ff2424" stroke-width="1.25" stroke-linejoin="round"/>
<text x="32.35" y="345.25" font-size="10" text-anchor="end" >0</text>
<text x="32.35" y="317.09" font-size="10" text-anchor="end" >50</text>
<text x="32.35" y="288.93" font-size="10" text-anchor="end" >100</text>
<text x="32.35" y="260.77" font-size="10" text-anchor="end" >150</text>
<text x="32.35" y="232.61" font-size="10" text-anchor="end" >200</text>
<text x="32.35" y="204.45" font-size="10" text-anchor="end" >250</text>
<text x="35.75" y="353.65" font-size="10" text-anchor="middle" >0</text>
<text x="55.2" y="353.65" font-size="10" text-anchor="middle" >50</text>
<text x="74.65" y="353.65" font-size="10" text-anchor="middle" >100</text>
<text x="94.1" y="353.65" font-size="10" text-anchor="middle" >150</text>
<text x="113.54" y="353.65" font-size="10" text-anchor="middle" >200</text>
<text x="132.99" y="353.65" font-size="10" text-anchor="middle" >250</text>
<text x="152.44" y="353.65" font-size="10" text-anchor="middle" >300</text>
<text x="100.12" y="370.95" font-size="11.6" text-anchor="middle" font-weight="bold" textLength="78.4" lengthAdjust="spacingAndGlyphs">Cutting Number</text>
<text transform="translate(14.15 271.35) rotate(-90)" font-size="11.5" font-weight="bold" text-anchor="middle" textLength="64" lengthAdjust="spacingAndGlyphs">Tool wear(&#956;m)</text>
<text x="77.95" y="384.95" font-size="10" text-anchor="start" >(d)BiLSTM</text>
<rect x="40.75" y="204.05" width="75.8" height="31.5" fill="#fff" stroke="#888" stroke-width="1"/>
<path d="M41.75 209.75h18.5" stroke="#2046ff" stroke-width="1.3"/>
<path d="M41.75 219.95h18.5" stroke="#ff2424" stroke-width="1.1"/>
<rect x="41.95" y="225.75" width="18" height="8.6" fill="#1a6bff" stroke="#1450e0" stroke-width="0.5"/>
<text x="62.15" y="212.65" font-size="8" text-anchor="start" font-weight="bold" >actual value</text>
<text x="62.15" y="222.85" font-size="8" text-anchor="start" font-weight="bold" >estimated value</text>
<text x="62.15" y="233.05" font-size="8" text-anchor="start" font-weight="bold" >error</text>
<rect x="209.85" y="201.55" width="128.75" height="140.8" fill="none" stroke="#1a1a1a" stroke-width="1.3"/>
<path d="M209.85 342.35h2.8M209.85 328.27h1.6M209.85 314.19h2.8M209.85 300.11h1.6M209.85 286.03h2.8M209.85 271.95h1.6M209.85 257.87h2.8M209.85 243.79h1.6M209.85 229.71h2.8M209.85 215.63h1.6M209.85 201.55h2.8M209.85 342.35v-2.8M219.57 342.35v-1.6M229.3 342.35v-2.8M239.02 342.35v-1.6M248.75 342.35v-2.8M258.47 342.35v-1.6M268.2 342.35v-2.8M277.92 342.35v-1.6M287.64 342.35v-2.8M297.37 342.35v-1.6M307.09 342.35v-2.8M316.82 342.35v-1.6M326.54 342.35v-2.8M336.27 342.35v-1.6" stroke="#111" stroke-width="1"/>
<path d="M210.35 342.95V338.53H210.04V339.2H210.43V339.81H210.82V340.23H211.21V340.29H211.6V340.47H211.99V339.28H212.38V339.58H212.77V339.92H213.16V339.76H213.55V339.68H213.93V338.49H214.32V338.46H214.71V338.12H215.1V338.32H215.49V338.38H215.88V337.62H216.27V337.63H216.66V337.74H217.05V338.44H217.43V338.3H217.82V337.54H218.21V338.27H218.6V337.69H218.99V338.26H219.38V337.84H219.77V337.8H220.16V338.76H220.55V338.17H220.94V338.26H221.32V339.12H221.71V339.09H222.1V338.58H222.49V339.35H222.88V339H223.27V339.22H223.66V338.83H224.05V339.65H224.44V339.48H224.83V339.84H225.21V339.85H225.6V339.15H225.99V339.12H226.38V338.83H226.77V338.71H227.16V338.54H227.55V338.68H227.94V338.89H228.33V338.15H228.72V338.7H229.1V338.22H229.49V338.08H229.88V338.53H230.27V338.13H230.66V337.9H231.05V338.11H231.44V338.38H231.83V337.77H232.22V338.75H232.6V337.83H232.99V338.62H233.38V338.76H233.77V337.97H234.16V338.86H234.55V338.52H234.94V338.79H235.33V338.26H235.72V338.36H236.11V338.55H236.49V337.13H236.88V338.67H237.27V339.33H237.66V339.6H238.05V339.71H238.44V339.2H238.83V339.31H239.22V339.57H239.61V339.89H240V339.26H240.38V339.96H240.77V340.05H241.16V340.17H241.55V339.38H241.94V340.35H242.33V339.53H242.72V339.83H243.11V340.15H243.5V340.51H243.89V339.98H244.27V340.62H244.66V340.28H245.05V340.09H245.44V340.14H245.83V340.05H246.22V340H246.61V340.12H247V340.71H247.39V338.82H247.77V340.28H248.16V340.21H248.55V338.96H248.94V340.8H249.33V340.72H249.72V340.61H250.11V341.04H250.5V341.34H250.89V341.03H251.28V341.06H251.66V340.76H252.05V341.69H252.44V340.86H252.83V341.4H253.22V341.81H253.61V341.16H254V341.84H254.39V342.05H254.78V341.87H255.17V342.05H255.55V341.47H255.94V341.75H256.33V341.41H256.72V342.05H257.11V341.45H257.5V341.55H257.89V342.02H258.28V341.79H258.67V341.84H259.06V341.16H259.44V341.05H259.83V341.14H260.22V340.74H260.61V340.4H261V340.37H261.39V339.96H261.78V340.31H262.17V341.04H262.56V341.13H262.94V340.9H263.33V340.89H263.72V340.84H264.11V340.7H264.5V341H264.89V341.64H265.28V341.85H265.67V341.45H266.06V342H266.45V342.05H266.83V342.05H267.22V342.05H267.61V341.76H268V341.35H268.39V341.68H268.78V341.24H269.17V341.44H269.56V341.71H269.95V341.62H270.34V341.21H270.72V341.86H271.11V341.55H271.5V341.47H271.89V340.88H272.28V341.41H272.67V341.1H273.06V341.52H273.45V341.29H273.84V341.64H274.23V341.46H274.61V341.6H275V341.13H275.39V341.42H275.78V341.51H276.17V341.59H276.56V341.09H276.95V341.58H277.34V341.6H277.73V341.4H278.11V341.68H278.5V341.65H278.89V341.2H279.28V341.2H279.67V340.82H280.06V341.49H280.45V341.58H280.84V341.1H281.23V341.31H281.62V341.33H282V341.33H282.39V340.75H282.78V341.36H283.17V341.14H283.56V331.64H283.95V333.07H284.34V341.15H284.73V341.3H285.12V341.15H285.51V341.22H285.89V340.51H286.28V340.63H286.67V340.9H287.06V341.11H287.45V340.66H287.84V341.13H288.23V341.07H288.62V340.48H289.01V340.91H289.39V340.66H289.78V340.49H290.17V340.57H290.56V340.76H290.95V340.62H291.34V340.63H291.73V340.47H292.12V340.91H292.51V340.82H292.9V341.06H293.28V341.03H293.67V340.68H294.06V341.35H294.45V340.44H294.84V338.79H295.23V334.52H295.62V336.35H296.01V340.55H296.4V341.28H296.79V340.81H297.17V340.47H297.56V341.06H297.95V340.53H298.34V340.99H298.73V340.78H299.12V341.02H299.51V341.41H299.9V341.26H300.29V340.86H300.68V341.26H301.06V341.09H301.45V340.81H301.84V340.58H302.23V341.04H302.62V341.01H303.01V341.41H303.4V341.42H303.79V341.05H304.18V340.79H304.56V341.34H304.95V340.44H305.34V340.54H305.73V341.01H306.12V341.06H306.51V340.58H306.9V339.38H307.29V341.32H307.68V340.79H308.07V340.83H308.45V340.61H308.84V340.66H309.23V341.34H309.62V340.72H310.01V341.3H310.4V341.23H310.79V340.9H311.18V340.54H311.57V339.57H311.96V340.76H312.34V340.66H312.73V340.55H313.12V341.21H313.51V340.69H313.9V340.47H314.29V340.65H314.68V340.28H315.07V340.77H315.46V340.57H315.85V340.41H316.23V340.89H316.62V340.92H317.01V340.08H317.4V340.59H317.79V340.32H318.18V340.97H318.57V340.81H318.96V340.25H319.35V340.26H319.73V340.13H320.12V340.96H320.51V340.24H320.9V340.54H321.29V340.4H321.68V340.55H322.07V340.5H322.46V340.63H322.85V339.97H323.24V340.6H323.62V340.11H324.01V340.33H324.4V340.1H324.79V340.04H325.18V340.26H325.57V340.17H325.96V340.04H326.35V340.41H326.74V340.23H327.13V339.65H327.51V339.85H327.9V340.03H328.29V340.48H328.68V340.43H329.07V340.06H329.46V339.5H329.85V340.25H330.24V339.87H330.63V340H331.02V340.11H331.4V340.01H331.79V339.84H332.18V340.25H332.57V339.7H332.96V342.95Z" fill="#0c2cfa" stroke="none"/>
<path d="M209.85 315.88L210.04 315.03L210.24 314.19L210.43 313.35L210.63 312.5L210.82 311.51L211.02 310.53L211.21 309.54L211.41 308.56L211.6 307.64L211.79 306.73L211.99 305.81L212.18 304.9L212.38 304.05L212.57 303.21L212.77 302.36L212.96 301.52L213.16 300.81L213.35 300.11L213.55 299.41L213.74 298.7L213.93 298.21L214.13 297.72L214.32 297.22L214.52 296.73L214.71 296.38L214.91 296.03L215.1 295.67L215.3 295.32L215.49 295.09L215.68 294.85L215.88 294.62L216.07 294.38L216.27 294.15L216.46 293.91L216.66 293.8L216.85 293.69L217.05 293.58L217.24 293.46L217.43 293.35L217.63 293.24L217.82 293.13L218.02 293.01L218.21 293.01L218.41 293.01L218.6 293.01L218.8 293.01L218.99 293.01L219.19 293.01L219.38 293.01L219.57 293.01L219.77 293.01L219.96 293.01L220.16 293.01L220.35 293.01L220.55 293.01L220.74 293.01L220.94 293.01L221.13 293.01L221.32 293.01L221.52 293.01L221.71 293.01L221.91 293.01L222.1 293.01L222.3 293.01L222.49 293.01L222.69 293.01L222.88 293.01L223.08 293.01L223.27 293.01L223.46 293.01L223.66 293.01L223.85 293.01L224.05 293.01L224.24 293.01L224.44 293.01L224.63 293.01L224.83 293.01L225.02 293.01L225.21 293.01L225.41 293.01L225.6 292.93L225.8 292.84L225.99 292.75L226.19 292.66L226.38 292.57L226.58 292.48L226.77 292.39L226.96 292.31L227.16 292.22L227.35 292.13L227.55 292.04L227.74 291.95L227.94 291.86L228.13 291.77L228.33 291.67L228.52 291.56L228.72 291.45L228.91 291.34L229.1 291.23L229.3 291.12L229.49 291.01L229.69 290.91L229.88 290.8L230.08 290.69L230.27 290.58L230.47 290.47L230.66 290.36L230.85 290.25L231.05 290.2L231.24 290.15L231.44 290.1L231.63 290.04L231.83 289.99L232.02 289.94L232.22 289.88L232.41 289.83L232.6 289.78L232.8 289.73L232.99 289.67L233.19 289.62L233.38 289.57L233.58 289.51L233.77 289.46L233.97 289.41L234.16 289.39L234.36 289.37L234.55 289.35L234.74 289.32L234.94 289.3L235.13 289.28L235.33 289.26L235.52 289.24L235.72 289.22L235.91 289.2L236.11 289.18L236.3 289.16L236.49 289.13L236.69 289.11L236.88 289.09L237.08 289.07L237.27 289.07L237.47 289.07L237.66 289.07L237.86 289.07L238.05 289.07L238.25 289.06L238.44 289.06L238.63 289.06L238.83 289.06L239.02 289.06L239.22 289.06L239.41 289.06L239.61 289.06L239.8 289.05L240 289.05L240.19 289.05L240.38 289.05L240.58 289.05L240.77 289.05L240.97 289.05L241.16 289.05L241.36 289.05L241.55 289.04L241.75 289.04L241.94 289.04L242.13 289.04L242.33 289.04L242.52 289.04L242.72 289.04L242.91 289.04L243.11 289.03L243.3 289.03L243.5 289.03L243.69 289.03L243.89 289.03L244.08 289.03L244.27 289.03L244.47 289.03L244.66 289.03L244.86 289.02L245.05 289.02L245.25 289.02L245.44 289.02L245.64 289.02L245.83 289.02L246.02 289.02L246.22 289.02L246.41 289.01L246.61 289.01L246.8 289.01L247 289.01L247.19 289.01L247.39 289.01L247.58 289.01L247.77 289.01L247.97 289.01L248.16 289L248.36 289L248.55 289L248.75 289L248.94 289L249.14 289L249.33 289L249.53 289L249.72 289L249.91 288.99L250.11 288.99L250.3 288.99L250.5 288.99L250.69 288.99L250.89 288.99L251.08 288.99L251.28 288.99L251.47 288.98L251.66 288.98L251.86 288.98L252.05 288.98L252.25 288.98L252.44 288.98L252.64 288.98L252.83 288.98L253.03 288.98L253.22 288.97L253.41 288.97L253.61 288.97L253.8 288.97L254 288.97L254.19 288.97L254.39 288.97L254.58 288.97L254.78 288.96L254.97 288.96L255.17 288.96L255.36 288.96L255.55 288.96L255.75 288.96L255.94 288.9L256.14 288.84L256.33 288.78L256.53 288.72L256.72 288.66L256.92 288.6L257.11 288.54L257.3 288.48L257.5 288.42L257.69 288.36L257.89 288.3L258.08 288.24L258.28 288.18L258.47 288.12L258.67 288.06L258.86 288L259.06 287.91L259.25 287.82L259.44 287.72L259.64 287.63L259.83 287.54L260.03 287.45L260.22 287.35L260.42 287.26L260.61 287.17L260.81 287.08L261 286.98L261.19 286.89L261.39 286.8L261.58 286.71L261.78 286.66L261.97 286.61L262.17 286.56L262.36 286.51L262.56 286.46L262.75 286.42L262.94 286.37L263.14 286.32L263.33 286.27L263.53 286.22L263.72 286.17L263.92 286.13L264.11 286.08L264.31 286.03L264.5 285.98L264.7 285.94L264.89 285.89L265.08 285.85L265.28 285.8L265.47 285.76L265.67 285.71L265.86 285.67L266.06 285.62L266.25 285.58L266.45 285.53L266.64 285.49L266.83 285.44L267.03 285.4L267.22 285.35L267.42 285.31L267.61 285.26L267.81 285.22L268 285.17L268.2 285.13L268.39 285.03L268.58 284.94L268.78 284.84L268.97 284.75L269.17 284.65L269.36 284.55L269.56 284.46L269.75 284.36L269.95 284.27L270.14 284.17L270.34 284.08L270.53 283.98L270.72 283.88L270.92 283.79L271.11 283.69L271.31 283.6L271.5 283.5L271.7 283.41L271.89 283.31L272.09 283.21L272.28 283.08L272.47 282.94L272.67 282.81L272.86 282.67L273.06 282.54L273.25 282.4L273.45 282.27L273.64 282.13L273.84 282L274.03 281.86L274.23 281.73L274.42 281.59L274.61 281.46L274.81 281.32L275 281.19L275.2 281.05L275.39 280.92L275.59 280.78L275.78 280.65L275.98 280.51L276.17 280.36L276.36 280.2L276.56 280.05L276.75 279.89L276.95 279.74L277.14 279.58L277.34 279.43L277.53 279.27L277.73 279.12L277.92 278.96L278.11 278.81L278.31 278.65L278.5 278.5L278.7 278.34L278.89 278.19L279.09 278.03L279.28 277.88L279.48 277.72L279.67 277.57L279.87 277.41L280.06 277.27L280.25 277.12L280.45 276.97L280.64 276.83L280.84 276.68L281.03 276.53L281.23 276.39L281.42 276.24L281.62 276.1L281.81 275.95L282 275.8L282.2 275.66L282.39 275.51L282.59 275.36L282.78 275.22L282.98 275.07L283.17 274.92L283.37 274.78L283.56 274.63L283.75 274.48L283.95 274.37L284.14 274.26L284.34 274.15L284.53 274.03L284.73 273.92L284.92 273.81L285.12 273.7L285.31 273.58L285.51 273.47L285.7 273.36L285.89 273.25L286.09 273.13L286.28 273.02L286.48 272.91L286.67 272.79L286.87 272.68L287.06 272.57L287.26 272.46L287.45 272.34L287.64 272.23L287.84 272.13L288.03 272.03L288.23 271.94L288.42 271.84L288.62 271.74L288.81 271.64L289.01 271.54L289.2 271.44L289.39 271.34L289.59 271.25L289.78 271.15L289.98 271.05L290.17 270.95L290.37 270.85L290.56 270.75L290.76 270.65L290.95 270.56L291.15 270.46L291.34 270.36L291.53 270.26L291.73 270.18L291.92 270.09L292.12 270.01L292.31 269.92L292.51 269.84L292.7 269.75L292.9 269.67L293.09 269.58L293.28 269.5L293.48 269.42L293.67 269.33L293.87 269.25L294.06 269.16L294.26 269.08L294.45 268.99L294.65 268.91L294.84 268.82L295.04 268.74L295.23 268.66L295.42 268.57L295.62 268.5L295.81 268.43L296.01 268.36L296.2 268.29L296.4 268.22L296.59 268.15L296.79 268.08L296.98 268.01L297.17 267.94L297.37 267.87L297.56 267.8L297.76 267.73L297.95 267.66L298.15 267.59L298.34 267.51L298.54 267.44L298.73 267.37L298.92 267.3L299.12 267.23L299.31 267.16L299.51 267.11L299.7 267.05L299.9 266.99L300.09 266.94L300.29 266.88L300.48 266.82L300.68 266.77L300.87 266.71L301.06 266.66L301.26 266.6L301.45 266.54L301.65 266.49L301.84 266.43L302.04 266.37L302.23 266.32L302.43 266.26L302.62 266.21L302.81 266.15L303.01 266.09L303.2 266.04L303.4 265.95L303.59 265.87L303.79 265.78L303.98 265.7L304.18 265.61L304.37 265.53L304.56 265.45L304.76 265.36L304.95 265.28L305.15 265.19L305.34 265.11L305.54 265.02L305.73 264.94L305.93 264.85L306.12 264.77L306.32 264.68L306.51 264.6L306.7 264.52L306.9 264.43L307.09 264.35L307.29 264.22L307.48 264.09L307.68 263.97L307.87 263.84L308.07 263.71L308.26 263.59L308.45 263.46L308.65 263.33L308.84 263.21L309.04 263.08L309.23 262.95L309.43 262.83L309.62 262.7L309.82 262.57L310.01 262.45L310.2 262.32L310.4 262.19L310.59 262.07L310.79 261.94L310.98 261.81L311.18 261.63L311.37 261.45L311.57 261.26L311.76 261.08L311.96 260.9L312.15 260.71L312.34 260.53L312.54 260.35L312.73 260.17L312.93 259.98L313.12 259.8L313.32 259.62L313.51 259.43L313.71 259.25L313.9 259.07L314.09 258.88L314.29 258.7L314.48 258.52L314.68 258.33L314.87 258.15L315.07 258L315.26 257.84L315.46 257.69L315.65 257.53L315.85 257.38L316.04 257.22L316.23 257.07L316.43 256.91L316.62 256.76L316.82 256.6L317.01 256.45L317.21 256.29L317.4 256.14L317.6 255.98L317.79 255.83L317.98 255.67L318.18 255.52L318.37 255.36L318.57 255.21L318.76 255.05L318.96 254.95L319.15 254.85L319.35 254.74L319.54 254.64L319.73 254.53L319.93 254.43L320.12 254.32L320.32 254.22L320.51 254.12L320.71 254.01L320.9 253.91L321.1 253.8L321.29 253.7L321.49 253.6L321.68 253.49L321.87 253.39L322.07 253.28L322.26 253.18L322.46 253.07L322.65 252.97L322.85 252.82L323.04 252.67L323.24 252.52L323.43 252.37L323.62 252.22L323.82 252.07L324.01 251.93L324.21 251.78L324.4 251.63L324.6 251.48L324.79 251.33L324.99 251.18L325.18 251.03L325.37 250.88L325.57 250.73L325.76 250.58L325.96 250.43L326.15 250.28L326.35 250.13L326.54 249.99L326.74 249.83L326.93 249.68L327.13 249.52L327.32 249.37L327.51 249.21L327.71 249.06L327.9 248.9L328.1 248.75L328.29 248.59L328.49 248.44L328.68 248.28L328.88 248.13L329.07 247.97L329.26 247.82L329.46 247.66L329.65 247.51L329.85 247.35L330.04 247.2L330.24 247.04L330.43 246.89L330.63 246.75L330.82 246.61L331.02 246.47L331.21 246.32L331.4 246.18L331.6 246.04L331.79 245.9L331.99 245.76L332.18 245.62L332.38 245.48L332.57 245.34L332.77 245.2" fill="none" stroke="#2448ff" stroke-width="1.5" stroke-linejoin="round"/>
<path d="M209.85 319.7L210.24 317.34L210.63 315.04L211.02 312.65L211.41 310.62L211.79 308.61L212.18 307.97L212.57 305.98L212.96 303.95L213.35 302.7L213.74 301.38L214.13 301.58L214.52 300.62L214.91 300.25L215.3 299.36L215.68 298.83L216.07 299.12L216.46 298.64L216.85 298.3L217.24 297.37L217.63 297.29L218.02 297.82L218.41 297.09L218.8 297.68L219.19 297.11L219.57 297.52L219.96 297.57L220.35 296.6L220.74 297.19L221.13 297.1L221.52 296.24L221.91 296.27L222.3 296.78L222.69 296.02L223.08 296.36L223.46 296.14L223.85 296.54L224.24 295.71L224.63 295.88L225.02 295.52L225.41 295.51L225.8 296.03L226.19 295.89L226.58 296L226.96 295.94L227.35 295.94L227.74 295.62L228.13 295.23L228.52 295.76L228.91 294.99L229.3 295.25L229.69 295.17L230.08 294.5L230.47 294.69L230.85 294.71L231.24 294.39L231.63 294.01L232.02 294.51L232.41 293.43L232.8 294.24L233.19 293.35L233.58 293.1L233.97 293.79L234.36 292.85L234.74 293.16L235.13 292.85L235.52 293.33L235.91 293.19L236.3 292.96L236.69 294.33L237.08 292.75L237.47 292.08L237.86 291.81L238.25 291.7L238.63 292.21L239.02 292.1L239.41 291.83L239.8 291.52L240.19 292.14L240.58 291.44L240.97 291.34L241.36 291.23L241.75 292.01L242.13 291.04L242.52 291.86L242.91 291.55L243.3 291.23L243.69 290.87L244.08 291.4L244.47 290.76L244.86 291.09L245.25 291.28L245.64 291.23L246.02 291.32L246.41 291.37L246.8 291.24L247.19 290.65L247.58 292.54L247.97 291.08L248.36 291.14L248.75 292.4L249.14 290.55L249.53 290.63L249.91 290.73L250.3 290.3L250.69 290L251.08 290.31L251.47 290.27L251.86 290.58L252.25 289.64L252.64 290.46L253.03 289.93L253.41 289.51L253.8 290.16L254.19 289.48L254.58 289.19L254.97 289.45L255.36 289.22L255.75 289.84L256.14 289.44L256.53 289.66L256.92 288.89L257.3 289.38L257.69 289.16L258.08 288.57L258.47 288.68L258.86 288.52L259.25 289.01L259.64 288.93L260.03 288.65L260.42 288.87L260.81 289.02L261.19 288.87L261.58 289.09L261.97 288.65L262.36 287.82L262.75 287.64L263.14 287.77L263.53 287.68L263.92 287.64L264.31 287.68L264.7 287.29L265.08 286.56L265.47 286.26L265.86 286.57L266.25 285.93L266.64 285.73L267.03 285.6L267.42 285.42L267.81 285.81L268.2 286.13L268.58 285.61L268.97 285.86L269.36 285.47L269.75 285L270.14 284.9L270.53 285.12L270.92 284.28L271.31 284.4L271.7 284.29L272.09 284.68L272.47 283.88L272.86 283.92L273.25 283.24L273.64 283.19L274.03 282.57L274.42 282.48L274.81 282.07L275.2 282.27L275.59 281.71L275.98 281.35L276.36 280.96L276.75 281.15L277.14 280.35L277.53 280.02L277.92 279.91L278.31 279.32L278.7 279.04L279.09 279.18L279.48 278.87L279.87 278.94L280.25 277.98L280.64 277.6L281.03 277.78L281.42 277.28L281.81 276.97L282.2 276.68L282.59 276.96L282.98 276.06L283.37 275.98L283.75 285.19L284.14 283.53L284.53 275.23L284.92 274.86L285.31 274.79L285.7 274.49L286.09 274.98L286.48 274.63L286.87 274.13L287.26 273.7L287.64 273.92L288.03 273.25L288.42 273.11L288.81 273.51L289.2 272.88L289.59 272.93L289.98 272.91L290.37 272.63L290.76 272.25L291.15 272.19L291.53 271.98L291.92 271.97L292.31 271.37L292.7 271.28L293.09 270.88L293.48 270.73L293.87 270.92L294.26 270.08L294.65 270.82L295.04 265.17L295.42 276.4L295.81 274.43L296.2 270.09L296.59 269.22L296.98 269.54L297.37 269.75L297.76 269.02L298.15 269.4L298.54 268.81L298.92 268.87L299.31 268.49L299.7 267.99L300.09 268.02L300.48 268.31L300.87 267.8L301.26 267.86L301.65 268.03L302.04 268.15L302.43 267.57L302.81 267.49L303.2 266.98L303.59 266.8L303.98 267L304.37 267.09L304.76 266.37L305.15 267.11L305.54 266.83L305.93 266.19L306.32 265.98L306.7 266.29L307.09 267.31L307.48 265.12L307.87 265.4L308.26 265.11L308.65 265.07L309.04 264.77L309.43 263.84L309.82 264.2L310.2 263.37L310.59 263.18L310.98 263.26L311.37 263.25L311.76 263.86L312.15 262.31L312.54 262.04L312.93 261.78L313.32 260.76L313.71 260.91L314.09 260.76L314.48 260.22L314.87 260.22L315.26 259.42L315.65 259.31L316.04 259.16L316.43 258.37L316.82 258.03L317.21 258.56L317.6 257.74L317.98 257.71L318.37 256.74L318.76 256.6L319.15 256.95L319.54 256.73L319.93 256.65L320.32 255.61L320.71 256.12L321.1 255.61L321.49 255.55L321.87 255.18L322.26 255.03L322.65 254.69L323.04 255.05L323.43 254.12L323.82 254.31L324.21 253.8L324.6 253.72L324.99 253.49L325.37 252.97L325.76 252.76L326.15 252.59L326.54 251.92L326.93 251.79L327.32 252.07L327.71 251.56L328.1 251.07L328.49 250.31L328.88 250.05L329.26 250.11L329.65 250.36L330.04 249.3L330.43 249.37L330.82 248.96L331.21 248.56L331.6 248.38L331.99 248.27L332.38 247.57L332.77 247.85" fill="none" stroke="#ff2424" stroke-width="1.25" stroke-linejoin="round"/>
<text x="206.45" y="345.25" font-size="10" text-anchor="end" >0</text>
<text x="206.45" y="317.09" font-size="10" text-anchor="end" >50</text>
<text x="206.45" y="288.93" font-size="10" text-anchor="end" >100</text>
<text x="206.45" y="260.77" font-size="10" text-anchor="end" >150</text>
<text x="206.45" y="232.61" font-size="10" text-anchor="end" >200</text>
<text x="206.45" y="204.45" font-size="10" text-anchor="end" >250</text>
<text x="209.85" y="353.65" font-size="10" text-anchor="middle" >0</text>
<text x="229.3" y="353.65" font-size="10" text-anchor="middle" >50</text>
<text x="248.75" y="353.65" font-size="10" text-anchor="middle" >100</text>
<text x="268.2" y="353.65" font-size="10" text-anchor="middle" >150</text>
<text x="287.64" y="353.65" font-size="10" text-anchor="middle" >200</text>
<text x="307.09" y="353.65" font-size="10" text-anchor="middle" >250</text>
<text x="326.54" y="353.65" font-size="10" text-anchor="middle" >300</text>
<text x="274.23" y="370.95" font-size="11.6" text-anchor="middle" font-weight="bold" textLength="78.4" lengthAdjust="spacingAndGlyphs">Cutting Number</text>
<text transform="translate(188.25 271.35) rotate(-90)" font-size="11.5" font-weight="bold" text-anchor="middle" textLength="64" lengthAdjust="spacingAndGlyphs">Tool wear(&#956;m)</text>
<text x="252.05" y="384.95" font-size="10" text-anchor="start" >(e)proposed model</text>
<rect x="214.85" y="204.05" width="75.8" height="31.5" fill="#fff" stroke="#888" stroke-width="1"/>
<path d="M215.85 209.75h18.5" stroke="#2046ff" stroke-width="1.3"/>
<path d="M215.85 219.95h18.5" stroke="#ff2424" stroke-width="1.1"/>
<rect x="216.05" y="225.75" width="18" height="8.6" fill="#1a6bff" stroke="#1450e0" stroke-width="0.5"/>
<text x="236.25" y="212.65" font-size="8" text-anchor="start" font-weight="bold" >actual value</text>
<text x="236.25" y="222.85" font-size="8" text-anchor="start" font-weight="bold" >estimated value</text>
<text x="236.25" y="233.05" font-size="8" text-anchor="start" font-weight="bold" >error</text>
<rect x="386.4" y="226.51" width="6.8" height="115.89" fill="#0f7a0f" stroke="#111" stroke-width="0.8"/>
<rect x="393.2" y="210.31" width="6.8" height="132.09" fill="#ff8810" stroke="#111" stroke-width="0.8"/>
<rect x="400" y="232.03" width="6.8" height="110.37" fill="#1010ff" stroke="#111" stroke-width="0.8"/>
<rect x="412.3" y="290.97" width="6.8" height="51.43" fill="#0f7a0f" stroke="#111" stroke-width="0.8"/>
<rect x="419.1" y="277.47" width="6.8" height="64.93" fill="#ff8810" stroke="#111" stroke-width="0.8"/>
<rect x="425.9" y="294.14" width="6.8" height="48.26" fill="#1010ff" stroke="#111" stroke-width="0.8"/>
<rect x="438.2" y="266.78" width="6.8" height="75.62" fill="#0f7a0f" stroke="#111" stroke-width="0.8"/>
<rect x="445" y="239.54" width="6.8" height="102.86" fill="#ff8810" stroke="#111" stroke-width="0.8"/>
<rect x="451.8" y="278.64" width="6.8" height="63.76" fill="#1010ff" stroke="#111" stroke-width="0.8"/>
<rect x="464" y="274.65" width="6.8" height="67.75" fill="#0f7a0f" stroke="#111" stroke-width="0.8"/>
<rect x="470.8" y="256.69" width="6.8" height="85.71" fill="#ff8810" stroke="#111" stroke-width="0.8"/>
<rect x="477.6" y="282.4" width="6.8" height="60" fill="#1010ff" stroke="#111" stroke-width="0.8"/>
<rect x="489.8" y="310.7" width="6.8" height="31.7" fill="#0f7a0f" stroke="#111" stroke-width="0.8"/>
<rect x="496.6" y="301.77" width="6.8" height="40.63" fill="#ff8810" stroke="#111" stroke-width="0.8"/>
<rect x="503.4" y="310.46" width="6.8" height="31.94" fill="#1010ff" stroke="#111" stroke-width="0.8"/>
<rect x="383.8" y="201.5" width="128.55" height="140.9" fill="none" stroke="#1a1a1a" stroke-width="1.3"/>
<path d="M383.8 342.4h2.8M512.35 342.4h-2.8M383.8 330.66h1.6M512.35 330.66h-1.6M383.8 318.92h2.8M512.35 318.92h-2.8M383.8 307.17h1.6M512.35 307.17h-1.6M383.8 295.43h2.8M512.35 295.43h-2.8M383.8 283.69h1.6M512.35 283.69h-1.6M383.8 271.95h2.8M512.35 271.95h-2.8M383.8 260.21h1.6M512.35 260.21h-1.6M383.8 248.47h2.8M512.35 248.47h-2.8M383.8 236.72h1.6M512.35 236.72h-1.6M383.8 224.98h2.8M512.35 224.98h-2.8M383.8 213.24h1.6M512.35 213.24h-1.6M383.8 201.5h2.8M512.35 201.5h-2.8M396.6 342.4v-2.6M409.5 342.4v-1.6M422.5 342.4v-2.6M435.4 342.4v-1.6M448.4 342.4v-2.6M461.3 342.4v-1.6M474.2 342.4v-2.6M487.1 342.4v-1.6M500 342.4v-2.6" stroke="#111" stroke-width="1"/>
<text x="380.2" y="345.8" font-size="10" text-anchor="end" >0</text>
<text x="515.75" y="345.8" font-size="10" text-anchor="start" >0.00</text>
<text x="380.2" y="322.32" font-size="10" text-anchor="end" >2</text>
<text x="515.75" y="322.32" font-size="10" text-anchor="start" >0.02</text>
<text x="380.2" y="298.83" font-size="10" text-anchor="end" >4</text>
<text x="515.75" y="298.83" font-size="10" text-anchor="start" >0.04</text>
<text x="380.2" y="275.35" font-size="10" text-anchor="end" >6</text>
<text x="515.75" y="275.35" font-size="10" text-anchor="start" >0.06</text>
<text x="380.2" y="251.87" font-size="10" text-anchor="end" >8</text>
<text x="515.75" y="251.87" font-size="10" text-anchor="start" >0.08</text>
<text x="380.2" y="228.38" font-size="10" text-anchor="end" >10</text>
<text x="515.75" y="228.38" font-size="10" text-anchor="start" >0.10</text>
<text x="380.2" y="204.9" font-size="10" text-anchor="end" >12</text>
<text x="515.75" y="204.9" font-size="10" text-anchor="start" >0.12</text>
<text transform="translate(407.1 350.8) rotate(-27)" font-size="8.1" text-anchor="end">SVR</text>
<text transform="translate(433 350.8) rotate(-27)" font-size="8.1" text-anchor="end">CNN</text>
<text transform="translate(458.9 350.8) rotate(-27)" font-size="8.1" text-anchor="end">BiGRU</text>
<text transform="translate(484.7 350.8) rotate(-27)" font-size="8.1" text-anchor="end">BiLSTM</text>
<text transform="translate(510.5 350.8) rotate(-27)" font-size="8.1" text-anchor="end">DResNet-1d</text>
<text x="453.7" y="372.2" font-size="10.5" text-anchor="middle" font-weight="bold" textLength="27.2" lengthAdjust="spacingAndGlyphs">Model</text>
<text x="426.3" y="384.5" font-size="10" text-anchor="start" >(f)Evaluate</text>
<text transform="translate(366.9 271.6) rotate(-90)" font-size="11" font-weight="bold" text-anchor="middle" textLength="60.5" lengthAdjust="spacingAndGlyphs">MAE&amp;RMSE</text>
<text transform="translate(545.0 271.6) rotate(-90)" font-size="11" font-weight="bold" text-anchor="middle" textLength="29.5" lengthAdjust="spacingAndGlyphs">MAPE</text>
<rect x="436.4" y="205.5" width="46" height="31.7" fill="#fff" stroke="#888" stroke-width="1"/>
<rect x="437.9" y="207.3" width="17.7" height="8.4" fill="#0f7a0f" stroke="#222" stroke-width="0.6"/>
<text x="458.1" y="214.6" font-size="8" text-anchor="start" font-weight="bold" >MAE</text>
<rect x="437.9" y="217.6" width="17.7" height="8.4" fill="#ff8810" stroke="#222" stroke-width="0.6"/>
<text x="458.1" y="224.9" font-size="8" text-anchor="start" font-weight="bold" >RMSE</text>
<rect x="437.9" y="227.9" width="17.7" height="8.4" fill="#1010ff" stroke="#222" stroke-width="0.6"/>
<text x="458.1" y="235.2" font-size="8" text-anchor="start" font-weight="bold" >MAPE</text>
</svg>
</body></html>
